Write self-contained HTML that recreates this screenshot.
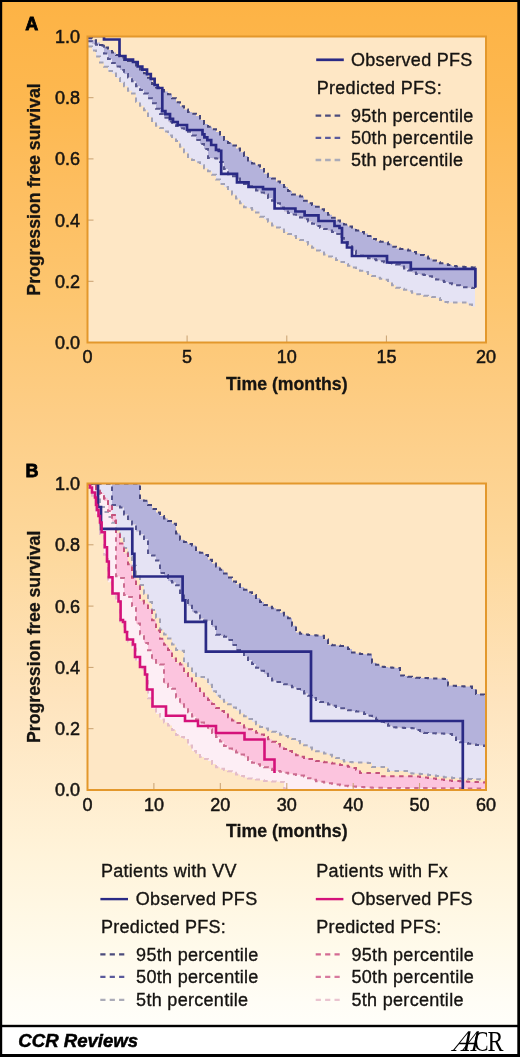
<!DOCTYPE html>
<html><head><meta charset="utf-8"><title>PFS figure</title><style>
html,body{margin:0;padding:0;background:#fff;}
svg{display:block;}
text{font-family:"Liberation Sans",Arial,sans-serif;fill:#161412;}
.tl{font-size:18px;stroke:#161412;stroke-width:0.5px;}
.lg{font-size:18px;letter-spacing:0.3px;stroke:#161412;stroke-width:0.35px;}
.ax{font-size:17.7px;font-weight:bold;stroke:#161412;stroke-width:0.3px;}
.pl{font-size:18px;font-weight:bold;fill:#000;stroke:#000;stroke-width:0.8px;}
.ft{font-size:18.6px;font-weight:bold;font-style:italic;fill:#000;stroke:#000;stroke-width:0.5px;}
.logo{font-family:"Liberation Serif",serif;font-size:30px;fill:#000;}
</style></head>
<body><svg width="520" height="1057" viewBox="0 0 520 1057">
<defs><linearGradient id="bg" x1="0" y1="0" x2="0" y2="1"><stop offset="0" stop-color="#FDB345"/><stop offset="0.1" stop-color="#FDB850"/><stop offset="0.186" stop-color="#FDBE60"/><stop offset="0.293" stop-color="#FDC670"/><stop offset="0.4" stop-color="#FDCD85"/><stop offset="0.537" stop-color="#FDD89C"/><stop offset="0.684" stop-color="#FEE4BE"/><stop offset="0.83" stop-color="#FFF3D9"/><stop offset="0.92" stop-color="#FFFAEA"/><stop offset="0.977" stop-color="#FFFDF6"/><stop offset="1.0" stop-color="#FFFEF9"/></linearGradient></defs>
<rect x="0" y="0" width="520" height="1026" fill="url(#bg)"/>
<rect x="0" y="1026" width="520" height="31" fill="#ffffff"/>
<text x="25.3" y="29.8" class="pl">A</text>
<text x="25.5" y="476.5" class="pl">B</text>
<clipPath id="ca"><rect x="87.5" y="36.5" width="398.5" height="306.0"/></clipPath>
<clipPath id="cb"><rect x="87.5" y="483.5" width="398.5" height="306.5"/></clipPath>
<g clip-path="url(#ca)"><rect x="87.5" y="36.5" width="398.5" height="306.0" fill="#FEE7C5"/>
<polygon points="88.0,41.3 92.0,41.3 92.0,43.7 96.0,43.7 96.0,44.8 100.0,44.8 100.0,45.8 104.0,45.8 104.0,53.5 108.0,53.5 108.0,59.0 112.0,59.0 112.0,63.0 116.0,63.0 116.0,66.6 120.0,66.6 120.0,70.0 124.0,70.0 124.0,74.0 128.0,74.0 128.0,77.6 132.0,77.6 132.0,81.2 136.0,81.2 136.0,86.2 140.0,86.2 140.0,89.9 144.0,89.9 144.0,93.5 148.0,93.5 148.0,98.2 152.0,98.2 152.0,103.3 156.0,103.3 156.0,108.7 160.0,108.7 160.0,114.0 164.0,114.0 164.0,117.8 168.0,117.8 168.0,121.5 172.0,121.5 172.0,123.8 176.0,123.8 176.0,126.1 180.0,126.1 180.0,128.2 184.0,128.2 184.0,129.9 188.0,129.9 188.0,131.7 192.0,131.7 192.0,135.5 196.0,135.5 196.0,140.0 200.0,140.0 200.0,144.0 204.0,144.0 204.0,149.0 208.0,149.0 208.0,158.0 212.0,158.0 212.0,158.2 216.0,158.2 216.0,158.5 220.0,158.5 220.0,162.0 224.0,162.0 224.0,169.1 228.0,169.1 228.0,174.3 232.0,174.3 232.0,176.3 236.0,176.3 236.0,178.6 240.0,178.6 240.0,181.2 244.0,181.2 244.0,183.9 248.0,183.9 248.0,186.2 252.0,186.2 252.0,188.3 256.0,188.3 256.0,190.4 260.0,190.4 260.0,192.5 264.0,192.5 264.0,194.6 268.0,194.6 268.0,198.1 272.0,198.1 272.0,200.7 276.0,200.7 276.0,203.3 280.0,203.3 280.0,207.4 284.0,207.4 284.0,211.5 288.0,211.5 288.0,212.9 292.0,212.9 292.0,214.4 296.0,214.4 296.0,215.8 300.0,215.8 300.0,217.5 304.0,217.5 304.0,219.2 308.0,219.2 308.0,221.5 312.0,221.5 312.0,223.8 316.0,223.8 316.0,225.9 320.0,225.9 320.0,227.7 324.0,227.7 324.0,229.1 328.0,229.1 328.0,230.5 332.0,230.5 332.0,231.9 336.0,231.9 336.0,234.0 340.0,234.0 340.0,238.0 344.0,238.0 344.0,242.0 348.0,242.0 348.0,246.3 352.0,246.3 352.0,250.7 356.0,250.7 356.0,254.3 360.0,254.3 360.0,255.8 364.0,255.8 364.0,257.1 368.0,257.1 368.0,258.2 372.0,258.2 372.0,259.2 376.0,259.2 376.0,260.2 380.0,260.2 380.0,261.2 384.0,261.2 384.0,262.2 388.0,262.2 388.0,262.9 392.0,262.9 392.0,263.6 396.0,263.6 396.0,264.5 400.0,264.5 400.0,266.5 404.0,266.5 404.0,268.5 408.0,268.5 408.0,270.5 412.0,270.5 412.0,272.5 416.0,272.5 416.0,274.1 420.0,274.1 420.0,274.5 424.0,274.5 424.0,274.9 428.0,274.9 428.0,276.2 432.0,276.2 432.0,277.8 436.0,277.8 436.0,279.4 440.0,279.4 440.0,280.8 444.0,280.8 444.0,282.1 448.0,282.1 448.0,283.2 452.0,283.2 452.0,284.2 456.0,284.2 456.0,285.2 460.0,285.2 460.0,286.2 464.0,286.2 464.0,287.2 468.0,287.2 468.0,287.7 472.0,287.7 472.0,287.9 475.0,287.9 475.0,288.0 475.0,307.0 475.0,306.7 472.0,306.7 472.0,304.6 468.0,304.6 468.0,302.5 464.0,302.5 464.0,302.5 460.0,302.5 460.0,302.5 456.0,302.5 456.0,302.5 452.0,302.5 452.0,302.5 448.0,302.5 448.0,302.0 444.0,302.0 444.0,300.0 440.0,300.0 440.0,298.0 436.0,298.0 436.0,297.1 432.0,297.1 432.0,296.4 428.0,296.4 428.0,295.8 424.0,295.8 424.0,295.0 420.0,295.0 420.0,294.2 416.0,294.2 416.0,292.8 412.0,292.8 412.0,291.2 408.0,291.2 408.0,289.8 404.0,289.8 404.0,288.8 400.0,288.8 400.0,287.8 396.0,287.8 396.0,285.2 392.0,285.2 392.0,282.2 388.0,282.2 388.0,279.8 384.0,279.8 384.0,278.8 380.0,278.8 380.0,277.8 376.0,277.8 376.0,276.0 372.0,276.0 372.0,274.0 368.0,274.0 368.0,272.1 364.0,272.1 364.0,270.8 360.0,270.8 360.0,269.4 356.0,269.4 356.0,267.6 352.0,267.6 352.0,265.7 348.0,265.7 348.0,263.9 344.0,263.9 344.0,262.0 340.0,262.0 340.0,260.1 336.0,260.1 336.0,258.3 332.0,258.3 332.0,256.4 328.0,256.4 328.0,254.5 324.0,254.5 324.0,252.5 320.0,252.5 320.0,250.5 316.0,250.5 316.0,247.8 312.0,247.8 312.0,244.8 308.0,244.8 308.0,242.0 304.0,242.0 304.0,240.0 300.0,240.0 300.0,238.0 296.0,238.0 296.0,236.0 292.0,236.0 292.0,234.0 288.0,234.0 288.0,231.9 284.0,231.9 284.0,229.6 280.0,229.6 280.0,227.5 276.0,227.5 276.0,225.4 272.0,225.4 272.0,221.7 268.0,221.7 268.0,219.2 264.0,219.2 264.0,216.7 260.0,216.7 260.0,212.6 256.0,212.6 256.0,209.7 252.0,209.7 252.0,208.1 248.0,208.1 248.0,207.3 244.0,207.3 244.0,203.3 240.0,203.3 240.0,198.5 236.0,198.5 236.0,194.6 232.0,194.6 232.0,190.4 228.0,190.4 228.0,186.9 224.0,186.9 224.0,183.9 220.0,183.9 220.0,179.6 216.0,179.6 216.0,174.7 212.0,174.7 212.0,171.2 208.0,171.2 208.0,168.2 204.0,168.2 204.0,165.2 200.0,165.2 200.0,162.2 196.0,162.2 196.0,160.1 192.0,160.1 192.0,158.0 188.0,158.0 188.0,152.3 184.0,152.3 184.0,146.7 180.0,146.7 180.0,141.0 176.0,141.0 176.0,138.2 172.0,138.2 172.0,135.4 168.0,135.4 168.0,131.4 164.0,131.4 164.0,128.1 160.0,128.1 160.0,125.8 156.0,125.8 156.0,122.1 152.0,122.1 152.0,117.0 148.0,117.0 148.0,110.2 144.0,110.2 144.0,105.8 140.0,105.8 140.0,101.8 136.0,101.8 136.0,93.4 132.0,93.4 132.0,90.8 128.0,90.8 128.0,86.3 124.0,86.3 124.0,82.8 120.0,82.8 120.0,77.9 116.0,77.9 116.0,73.6 112.0,73.6 112.0,71.0 108.0,71.0 108.0,66.8 104.0,66.8 104.0,62.5 100.0,62.5 100.0,56.4 96.0,56.4 96.0,50.5 92.0,50.5 92.0,46.5 88.0,46.5" fill="#E5E3F4"/>
<polygon points="88.0,38.0 92.0,38.0 92.0,40.2 96.0,40.2 96.0,42.6 100.0,42.6 100.0,45.0 104.0,45.0 104.0,47.5 108.0,47.5 108.0,50.0 112.0,50.0 112.0,52.5 116.0,52.5 116.0,55.1 120.0,55.1 120.0,57.6 124.0,57.6 124.0,59.9 128.0,59.9 128.0,61.1 132.0,61.1 132.0,63.0 136.0,63.0 136.0,66.7 140.0,66.7 140.0,69.4 144.0,69.4 144.0,73.2 148.0,73.2 148.0,77.8 152.0,77.8 152.0,84.0 156.0,84.0 156.0,87.5 160.0,87.5 160.0,90.0 164.0,90.0 164.0,91.4 168.0,91.4 168.0,94.2 172.0,94.2 172.0,98.2 176.0,98.2 176.0,102.3 180.0,102.3 180.0,106.2 184.0,106.2 184.0,109.5 188.0,109.5 188.0,111.9 192.0,111.9 192.0,113.7 196.0,113.7 196.0,116.0 200.0,116.0 200.0,120.0 204.0,120.0 204.0,124.0 208.0,124.0 208.0,126.8 212.0,126.8 212.0,129.2 216.0,129.2 216.0,132.0 220.0,132.0 220.0,136.0 224.0,136.0 224.0,140.0 228.0,140.0 228.0,142.9 232.0,142.9 232.0,145.6 236.0,145.6 236.0,148.4 240.0,148.4 240.0,152.2 244.0,152.2 244.0,156.0 248.0,156.0 248.0,160.6 252.0,160.6 252.0,163.4 256.0,163.4 256.0,165.2 260.0,165.2 260.0,169.0 264.0,169.0 264.0,173.8 268.0,173.8 268.0,176.9 272.0,176.9 272.0,178.6 276.0,178.6 276.0,181.5 280.0,181.5 280.0,183.9 284.0,183.9 284.0,186.9 288.0,186.9 288.0,191.0 292.0,191.0 292.0,194.6 296.0,194.6 296.0,195.4 300.0,195.4 300.0,196.5 304.0,196.5 304.0,200.8 308.0,200.8 308.0,203.3 312.0,203.3 312.0,205.1 316.0,205.1 316.0,206.8 320.0,206.8 320.0,209.3 324.0,209.3 324.0,211.9 328.0,211.9 328.0,214.8 332.0,214.8 332.0,217.8 336.0,217.8 336.0,220.5 340.0,220.5 340.0,222.5 344.0,222.5 344.0,224.5 348.0,224.5 348.0,226.5 352.0,226.5 352.0,228.5 356.0,228.5 356.0,230.4 360.0,230.4 360.0,232.0 364.0,232.0 364.0,233.6 368.0,233.6 368.0,236.1 372.0,236.1 372.0,238.9 376.0,238.9 376.0,241.2 380.0,241.2 380.0,241.8 384.0,241.8 384.0,242.3 388.0,242.3 388.0,244.3 392.0,244.3 392.0,246.7 396.0,246.7 396.0,248.6 400.0,248.6 400.0,249.1 404.0,249.1 404.0,249.5 408.0,249.5 408.0,250.6 412.0,250.6 412.0,252.0 416.0,252.0 416.0,253.4 420.0,253.4 420.0,255.0 424.0,255.0 424.0,256.6 428.0,256.6 428.0,258.5 432.0,258.5 432.0,260.5 436.0,260.5 436.0,262.2 440.0,262.2 440.0,263.2 444.0,263.2 444.0,264.2 448.0,264.2 448.0,265.1 452.0,265.1 452.0,265.9 456.0,265.9 456.0,266.6 460.0,266.6 460.0,266.8 464.0,266.8 464.0,266.9 468.0,266.9 468.0,267.2 472.0,267.2 472.0,267.4 475.0,267.4 475.0,267.5 475.0,288.0 475.0,287.9 472.0,287.9 472.0,287.7 468.0,287.7 468.0,287.2 464.0,287.2 464.0,286.2 460.0,286.2 460.0,285.2 456.0,285.2 456.0,284.2 452.0,284.2 452.0,283.2 448.0,283.2 448.0,282.1 444.0,282.1 444.0,280.8 440.0,280.8 440.0,279.4 436.0,279.4 436.0,277.8 432.0,277.8 432.0,276.2 428.0,276.2 428.0,274.9 424.0,274.9 424.0,274.5 420.0,274.5 420.0,274.1 416.0,274.1 416.0,272.5 412.0,272.5 412.0,270.5 408.0,270.5 408.0,268.5 404.0,268.5 404.0,266.5 400.0,266.5 400.0,264.5 396.0,264.5 396.0,263.6 392.0,263.6 392.0,262.9 388.0,262.9 388.0,262.2 384.0,262.2 384.0,261.2 380.0,261.2 380.0,260.2 376.0,260.2 376.0,259.2 372.0,259.2 372.0,258.2 368.0,258.2 368.0,257.1 364.0,257.1 364.0,255.8 360.0,255.8 360.0,254.3 356.0,254.3 356.0,250.7 352.0,250.7 352.0,246.3 348.0,246.3 348.0,242.0 344.0,242.0 344.0,238.0 340.0,238.0 340.0,234.0 336.0,234.0 336.0,231.9 332.0,231.9 332.0,230.5 328.0,230.5 328.0,229.1 324.0,229.1 324.0,227.7 320.0,227.7 320.0,225.9 316.0,225.9 316.0,223.8 312.0,223.8 312.0,221.5 308.0,221.5 308.0,219.2 304.0,219.2 304.0,217.5 300.0,217.5 300.0,215.8 296.0,215.8 296.0,214.4 292.0,214.4 292.0,212.9 288.0,212.9 288.0,211.5 284.0,211.5 284.0,207.4 280.0,207.4 280.0,203.3 276.0,203.3 276.0,200.7 272.0,200.7 272.0,198.1 268.0,198.1 268.0,194.6 264.0,194.6 264.0,192.5 260.0,192.5 260.0,190.4 256.0,190.4 256.0,188.3 252.0,188.3 252.0,186.2 248.0,186.2 248.0,183.9 244.0,183.9 244.0,181.2 240.0,181.2 240.0,178.6 236.0,178.6 236.0,176.3 232.0,176.3 232.0,174.3 228.0,174.3 228.0,169.1 224.0,169.1 224.0,162.0 220.0,162.0 220.0,158.5 216.0,158.5 216.0,158.2 212.0,158.2 212.0,158.0 208.0,158.0 208.0,149.0 204.0,149.0 204.0,144.0 200.0,144.0 200.0,140.0 196.0,140.0 196.0,135.5 192.0,135.5 192.0,131.7 188.0,131.7 188.0,129.9 184.0,129.9 184.0,128.2 180.0,128.2 180.0,126.1 176.0,126.1 176.0,123.8 172.0,123.8 172.0,121.5 168.0,121.5 168.0,117.8 164.0,117.8 164.0,114.0 160.0,114.0 160.0,108.7 156.0,108.7 156.0,103.3 152.0,103.3 152.0,98.2 148.0,98.2 148.0,93.5 144.0,93.5 144.0,89.9 140.0,89.9 140.0,86.2 136.0,86.2 136.0,81.2 132.0,81.2 132.0,77.6 128.0,77.6 128.0,74.0 124.0,74.0 124.0,70.0 120.0,70.0 120.0,66.6 116.0,66.6 116.0,63.0 112.0,63.0 112.0,59.0 108.0,59.0 108.0,53.5 104.0,53.5 104.0,45.8 100.0,45.8 100.0,44.8 96.0,44.8 96.0,43.7 92.0,43.7 92.0,41.3 88.0,41.3" fill="#B4B2DB"/>
<path d="M88.0,46.5 L92.0,46.5 L92.0,50.5 L96.0,50.5 L96.0,56.4 L100.0,56.4 L100.0,62.5 L104.0,62.5 L104.0,66.8 L108.0,66.8 L108.0,71.0 L112.0,71.0 L112.0,73.6 L116.0,73.6 L116.0,77.9 L120.0,77.9 L120.0,82.8 L124.0,82.8 L124.0,86.3 L128.0,86.3 L128.0,90.8 L132.0,90.8 L132.0,93.4 L136.0,93.4 L136.0,101.8 L140.0,101.8 L140.0,105.8 L144.0,105.8 L144.0,110.2 L148.0,110.2 L148.0,117.0 L152.0,117.0 L152.0,122.1 L156.0,122.1 L156.0,125.8 L160.0,125.8 L160.0,128.1 L164.0,128.1 L164.0,131.4 L168.0,131.4 L168.0,135.4 L172.0,135.4 L172.0,138.2 L176.0,138.2 L176.0,141.0 L180.0,141.0 L180.0,146.7 L184.0,146.7 L184.0,152.3 L188.0,152.3 L188.0,158.0 L192.0,158.0 L192.0,160.1 L196.0,160.1 L196.0,162.2 L200.0,162.2 L200.0,165.2 L204.0,165.2 L204.0,168.2 L208.0,168.2 L208.0,171.2 L212.0,171.2 L212.0,174.7 L216.0,174.7 L216.0,179.6 L220.0,179.6 L220.0,183.9 L224.0,183.9 L224.0,186.9 L228.0,186.9 L228.0,190.4 L232.0,190.4 L232.0,194.6 L236.0,194.6 L236.0,198.5 L240.0,198.5 L240.0,203.3 L244.0,203.3 L244.0,207.3 L248.0,207.3 L248.0,208.1 L252.0,208.1 L252.0,209.7 L256.0,209.7 L256.0,212.6 L260.0,212.6 L260.0,216.7 L264.0,216.7 L264.0,219.2 L268.0,219.2 L268.0,221.7 L272.0,221.7 L272.0,225.4 L276.0,225.4 L276.0,227.5 L280.0,227.5 L280.0,229.6 L284.0,229.6 L284.0,231.9 L288.0,231.9 L288.0,234.0 L292.0,234.0 L292.0,236.0 L296.0,236.0 L296.0,238.0 L300.0,238.0 L300.0,240.0 L304.0,240.0 L304.0,242.0 L308.0,242.0 L308.0,244.8 L312.0,244.8 L312.0,247.8 L316.0,247.8 L316.0,250.5 L320.0,250.5 L320.0,252.5 L324.0,252.5 L324.0,254.5 L328.0,254.5 L328.0,256.4 L332.0,256.4 L332.0,258.3 L336.0,258.3 L336.0,260.1 L340.0,260.1 L340.0,262.0 L344.0,262.0 L344.0,263.9 L348.0,263.9 L348.0,265.7 L352.0,265.7 L352.0,267.6 L356.0,267.6 L356.0,269.4 L360.0,269.4 L360.0,270.8 L364.0,270.8 L364.0,272.1 L368.0,272.1 L368.0,274.0 L372.0,274.0 L372.0,276.0 L376.0,276.0 L376.0,277.8 L380.0,277.8 L380.0,278.8 L384.0,278.8 L384.0,279.8 L388.0,279.8 L388.0,282.2 L392.0,282.2 L392.0,285.2 L396.0,285.2 L396.0,287.8 L400.0,287.8 L400.0,288.8 L404.0,288.8 L404.0,289.8 L408.0,289.8 L408.0,291.2 L412.0,291.2 L412.0,292.8 L416.0,292.8 L416.0,294.2 L420.0,294.2 L420.0,295.0 L424.0,295.0 L424.0,295.8 L428.0,295.8 L428.0,296.4 L432.0,296.4 L432.0,297.1 L436.0,297.1 L436.0,298.0 L440.0,298.0 L440.0,300.0 L444.0,300.0 L444.0,302.0 L448.0,302.0 L448.0,302.5 L452.0,302.5 L452.0,302.5 L456.0,302.5 L456.0,302.5 L460.0,302.5 L460.0,302.5 L464.0,302.5 L464.0,302.5 L468.0,302.5 L468.0,304.6 L472.0,304.6 L472.0,306.7 L475.0,306.7 L475.0,307.0" fill="none" stroke="#A2A2B6" stroke-width="2" stroke-dasharray="4.5 4.5"/>
<path d="M88.0,41.3 L92.0,41.3 L92.0,43.7 L96.0,43.7 L96.0,44.8 L100.0,44.8 L100.0,45.8 L104.0,45.8 L104.0,53.5 L108.0,53.5 L108.0,59.0 L112.0,59.0 L112.0,63.0 L116.0,63.0 L116.0,66.6 L120.0,66.6 L120.0,70.0 L124.0,70.0 L124.0,74.0 L128.0,74.0 L128.0,77.6 L132.0,77.6 L132.0,81.2 L136.0,81.2 L136.0,86.2 L140.0,86.2 L140.0,89.9 L144.0,89.9 L144.0,93.5 L148.0,93.5 L148.0,98.2 L152.0,98.2 L152.0,103.3 L156.0,103.3 L156.0,108.7 L160.0,108.7 L160.0,114.0 L164.0,114.0 L164.0,117.8 L168.0,117.8 L168.0,121.5 L172.0,121.5 L172.0,123.8 L176.0,123.8 L176.0,126.1 L180.0,126.1 L180.0,128.2 L184.0,128.2 L184.0,129.9 L188.0,129.9 L188.0,131.7 L192.0,131.7 L192.0,135.5 L196.0,135.5 L196.0,140.0 L200.0,140.0 L200.0,144.0 L204.0,144.0 L204.0,149.0 L208.0,149.0 L208.0,158.0 L212.0,158.0 L212.0,158.2 L216.0,158.2 L216.0,158.5 L220.0,158.5 L220.0,162.0 L224.0,162.0 L224.0,169.1 L228.0,169.1 L228.0,174.3 L232.0,174.3 L232.0,176.3 L236.0,176.3 L236.0,178.6 L240.0,178.6 L240.0,181.2 L244.0,181.2 L244.0,183.9 L248.0,183.9 L248.0,186.2 L252.0,186.2 L252.0,188.3 L256.0,188.3 L256.0,190.4 L260.0,190.4 L260.0,192.5 L264.0,192.5 L264.0,194.6 L268.0,194.6 L268.0,198.1 L272.0,198.1 L272.0,200.7 L276.0,200.7 L276.0,203.3 L280.0,203.3 L280.0,207.4 L284.0,207.4 L284.0,211.5 L288.0,211.5 L288.0,212.9 L292.0,212.9 L292.0,214.4 L296.0,214.4 L296.0,215.8 L300.0,215.8 L300.0,217.5 L304.0,217.5 L304.0,219.2 L308.0,219.2 L308.0,221.5 L312.0,221.5 L312.0,223.8 L316.0,223.8 L316.0,225.9 L320.0,225.9 L320.0,227.7 L324.0,227.7 L324.0,229.1 L328.0,229.1 L328.0,230.5 L332.0,230.5 L332.0,231.9 L336.0,231.9 L336.0,234.0 L340.0,234.0 L340.0,238.0 L344.0,238.0 L344.0,242.0 L348.0,242.0 L348.0,246.3 L352.0,246.3 L352.0,250.7 L356.0,250.7 L356.0,254.3 L360.0,254.3 L360.0,255.8 L364.0,255.8 L364.0,257.1 L368.0,257.1 L368.0,258.2 L372.0,258.2 L372.0,259.2 L376.0,259.2 L376.0,260.2 L380.0,260.2 L380.0,261.2 L384.0,261.2 L384.0,262.2 L388.0,262.2 L388.0,262.9 L392.0,262.9 L392.0,263.6 L396.0,263.6 L396.0,264.5 L400.0,264.5 L400.0,266.5 L404.0,266.5 L404.0,268.5 L408.0,268.5 L408.0,270.5 L412.0,270.5 L412.0,272.5 L416.0,272.5 L416.0,274.1 L420.0,274.1 L420.0,274.5 L424.0,274.5 L424.0,274.9 L428.0,274.9 L428.0,276.2 L432.0,276.2 L432.0,277.8 L436.0,277.8 L436.0,279.4 L440.0,279.4 L440.0,280.8 L444.0,280.8 L444.0,282.1 L448.0,282.1 L448.0,283.2 L452.0,283.2 L452.0,284.2 L456.0,284.2 L456.0,285.2 L460.0,285.2 L460.0,286.2 L464.0,286.2 L464.0,287.2 L468.0,287.2 L468.0,287.7 L472.0,287.7 L472.0,287.9 L475.0,287.9 L475.0,288.0" fill="none" stroke="#55558E" stroke-width="2" stroke-dasharray="4.5 4.5"/>
<path d="M88.0,38.0 L92.0,38.0 L92.0,40.2 L96.0,40.2 L96.0,42.6 L100.0,42.6 L100.0,45.0 L104.0,45.0 L104.0,47.5 L108.0,47.5 L108.0,50.0 L112.0,50.0 L112.0,52.5 L116.0,52.5 L116.0,55.1 L120.0,55.1 L120.0,57.6 L124.0,57.6 L124.0,59.9 L128.0,59.9 L128.0,61.1 L132.0,61.1 L132.0,63.0 L136.0,63.0 L136.0,66.7 L140.0,66.7 L140.0,69.4 L144.0,69.4 L144.0,73.2 L148.0,73.2 L148.0,77.8 L152.0,77.8 L152.0,84.0 L156.0,84.0 L156.0,87.5 L160.0,87.5 L160.0,90.0 L164.0,90.0 L164.0,91.4 L168.0,91.4 L168.0,94.2 L172.0,94.2 L172.0,98.2 L176.0,98.2 L176.0,102.3 L180.0,102.3 L180.0,106.2 L184.0,106.2 L184.0,109.5 L188.0,109.5 L188.0,111.9 L192.0,111.9 L192.0,113.7 L196.0,113.7 L196.0,116.0 L200.0,116.0 L200.0,120.0 L204.0,120.0 L204.0,124.0 L208.0,124.0 L208.0,126.8 L212.0,126.8 L212.0,129.2 L216.0,129.2 L216.0,132.0 L220.0,132.0 L220.0,136.0 L224.0,136.0 L224.0,140.0 L228.0,140.0 L228.0,142.9 L232.0,142.9 L232.0,145.6 L236.0,145.6 L236.0,148.4 L240.0,148.4 L240.0,152.2 L244.0,152.2 L244.0,156.0 L248.0,156.0 L248.0,160.6 L252.0,160.6 L252.0,163.4 L256.0,163.4 L256.0,165.2 L260.0,165.2 L260.0,169.0 L264.0,169.0 L264.0,173.8 L268.0,173.8 L268.0,176.9 L272.0,176.9 L272.0,178.6 L276.0,178.6 L276.0,181.5 L280.0,181.5 L280.0,183.9 L284.0,183.9 L284.0,186.9 L288.0,186.9 L288.0,191.0 L292.0,191.0 L292.0,194.6 L296.0,194.6 L296.0,195.4 L300.0,195.4 L300.0,196.5 L304.0,196.5 L304.0,200.8 L308.0,200.8 L308.0,203.3 L312.0,203.3 L312.0,205.1 L316.0,205.1 L316.0,206.8 L320.0,206.8 L320.0,209.3 L324.0,209.3 L324.0,211.9 L328.0,211.9 L328.0,214.8 L332.0,214.8 L332.0,217.8 L336.0,217.8 L336.0,220.5 L340.0,220.5 L340.0,222.5 L344.0,222.5 L344.0,224.5 L348.0,224.5 L348.0,226.5 L352.0,226.5 L352.0,228.5 L356.0,228.5 L356.0,230.4 L360.0,230.4 L360.0,232.0 L364.0,232.0 L364.0,233.6 L368.0,233.6 L368.0,236.1 L372.0,236.1 L372.0,238.9 L376.0,238.9 L376.0,241.2 L380.0,241.2 L380.0,241.8 L384.0,241.8 L384.0,242.3 L388.0,242.3 L388.0,244.3 L392.0,244.3 L392.0,246.7 L396.0,246.7 L396.0,248.6 L400.0,248.6 L400.0,249.1 L404.0,249.1 L404.0,249.5 L408.0,249.5 L408.0,250.6 L412.0,250.6 L412.0,252.0 L416.0,252.0 L416.0,253.4 L420.0,253.4 L420.0,255.0 L424.0,255.0 L424.0,256.6 L428.0,256.6 L428.0,258.5 L432.0,258.5 L432.0,260.5 L436.0,260.5 L436.0,262.2 L440.0,262.2 L440.0,263.2 L444.0,263.2 L444.0,264.2 L448.0,264.2 L448.0,265.1 L452.0,265.1 L452.0,265.9 L456.0,265.9 L456.0,266.6 L460.0,266.6 L460.0,266.8 L464.0,266.8 L464.0,266.9 L468.0,266.9 L468.0,267.2 L472.0,267.2 L472.0,267.4 L475.0,267.4 L475.0,267.5" fill="none" stroke="#45457A" stroke-width="2" stroke-dasharray="4.5 4.5"/>
<polyline points="88.0,36.0 104.0,36.0 104.0,39.5 119.5,39.5 119.5,56.0 125.4,56.0 125.4,59.6 133.0,59.6 133.0,62.0 137.7,62.0 137.7,66.5 142.3,66.5 142.3,69.6 147.0,69.6 147.0,74.2 150.8,74.2 150.8,78.8 154.6,78.8 154.6,85.0 157.7,85.0 157.7,88.0 162.3,88.0 162.3,111.2 165.4,111.2 165.4,114.2 170.0,114.2 170.0,118.8 173.0,118.8 173.0,122.0 177.7,122.0 177.7,125.0 187.0,125.0 187.0,130.0 202.5,130.0 202.5,134.4 204.4,134.4 204.4,137.3 207.3,137.3 207.3,140.2 211.2,140.2 211.2,145.0 216.0,145.0 216.0,149.8 218.8,149.8 218.8,150.8 221.2,150.8 221.2,173.8 237.0,173.8 237.0,182.3 248.5,182.3 248.5,187.0 263.0,187.0 263.0,189.2 274.6,189.2 274.6,208.5 295.4,208.5 295.4,211.5 304.6,211.5 304.6,215.4 318.5,215.4 318.5,221.0 334.5,221.0 334.5,226.0 339.5,226.0 339.5,228.0 342.0,228.0 342.0,242.5 347.0,242.5 347.0,247.5 352.0,247.5 352.0,256.0 387.0,256.0 387.0,262.5 410.8,262.5 410.8,269.0 475.4,269.0 475.4,287.5" fill="none" stroke="#2A2A85" stroke-width="2.7"/></g>
<line x1="187.1" y1="335.5" x2="187.1" y2="342.5" stroke="#C8A070" stroke-width="1"/>
<line x1="286.8" y1="335.5" x2="286.8" y2="342.5" stroke="#C8A070" stroke-width="1"/>
<line x1="386.4" y1="335.5" x2="386.4" y2="342.5" stroke="#C8A070" stroke-width="1"/>
<line x1="87.5" y1="281.3" x2="93.5" y2="281.3" stroke="#C8A070" stroke-width="1"/>
<line x1="87.5" y1="220.1" x2="93.5" y2="220.1" stroke="#C8A070" stroke-width="1"/>
<line x1="87.5" y1="158.9" x2="93.5" y2="158.9" stroke="#C8A070" stroke-width="1"/>
<line x1="87.5" y1="97.7" x2="93.5" y2="97.7" stroke="#C8A070" stroke-width="1"/>
<rect x="87.5" y="36.5" width="398.5" height="306.0" fill="none" stroke="#E3982C" stroke-width="2"/>
<text x="80" y="348.9" text-anchor="end" class="tl">0.0</text>
<text x="80" y="287.7" text-anchor="end" class="tl">0.2</text>
<text x="80" y="226.5" text-anchor="end" class="tl">0.4</text>
<text x="80" y="165.3" text-anchor="end" class="tl">0.6</text>
<text x="80" y="104.1" text-anchor="end" class="tl">0.8</text>
<text x="80" y="42.9" text-anchor="end" class="tl">1.0</text>
<text x="87.5" y="363.1" text-anchor="middle" class="tl">0</text>
<text x="187.1" y="363.1" text-anchor="middle" class="tl">5</text>
<text x="286.8" y="363.1" text-anchor="middle" class="tl">10</text>
<text x="386.4" y="363.1" text-anchor="middle" class="tl">15</text>
<text x="486.0" y="363.1" text-anchor="middle" class="tl">20</text>
<text x="286.8" y="389.5" text-anchor="middle" class="ax">Time (months)</text>
<text transform="translate(40.4,189.5) rotate(-90)" x="0" y="0" text-anchor="middle" class="ax">Progression free survival</text>
<g clip-path="url(#cb)"><rect x="87.5" y="483.5" width="398.5" height="306.5" fill="#FEE7C5"/>
<polygon points="88.0,483.5 92.0,483.5 92.0,483.5 96.0,483.5 96.0,483.5 100.0,483.5 100.0,483.5 104.0,483.5 104.0,483.5 108.0,483.5 108.0,483.5 112.0,483.5 112.0,505.0 116.0,505.0 116.0,506.5 120.0,506.5 120.0,507.5 124.0,507.5 124.0,514.4 128.0,514.4 128.0,520.2 132.0,520.2 132.0,524.4 136.0,524.4 136.0,531.5 140.0,531.5 140.0,534.2 144.0,534.2 144.0,539.1 148.0,539.1 148.0,554.0 152.0,554.0 152.0,555.4 156.0,555.4 156.0,560.6 160.0,560.6 160.0,572.9 164.0,572.9 164.0,575.0 168.0,575.0 168.0,580.9 172.0,580.9 172.0,582.4 176.0,582.4 176.0,585.3 180.0,585.3 180.0,594.1 184.0,594.1 184.0,599.9 188.0,599.9 188.0,605.7 192.0,605.7 192.0,611.7 196.0,611.7 196.0,612.4 200.0,612.4 200.0,618.5 204.0,618.5 204.0,620.5 208.0,620.5 208.0,620.8 212.0,620.8 212.0,626.8 216.0,626.8 216.0,634.8 220.0,634.8 220.0,635.8 224.0,635.8 224.0,636.8 228.0,636.8 228.0,640.0 232.0,640.0 232.0,645.0 236.0,645.0 236.0,650.0 240.0,650.0 240.0,652.0 244.0,652.0 244.0,656.0 248.0,656.0 248.0,660.0 252.0,660.0 252.0,664.0 256.0,664.0 256.0,667.8 260.0,667.8 260.0,670.8 264.0,670.8 264.0,673.8 268.0,673.8 268.0,677.1 272.0,677.1 272.0,680.6 276.0,680.6 276.0,682.0 280.0,682.0 280.0,683.1 284.0,683.1 284.0,684.2 288.0,684.2 288.0,685.7 292.0,685.7 292.0,687.3 296.0,687.3 296.0,688.9 300.0,688.9 300.0,691.0 304.0,691.0 304.0,693.4 308.0,693.4 308.0,695.8 312.0,695.8 312.0,698.0 316.0,698.0 316.0,700.0 320.0,700.0 320.0,702.0 324.0,702.0 324.0,703.3 328.0,703.3 328.0,704.6 332.0,704.6 332.0,705.8 336.0,705.8 336.0,707.0 340.0,707.0 340.0,708.2 344.0,708.2 344.0,709.4 348.0,709.4 348.0,710.2 352.0,710.2 352.0,710.9 356.0,710.9 356.0,711.6 360.0,711.6 360.0,712.2 364.0,712.2 364.0,713.9 368.0,713.9 368.0,715.8 372.0,715.8 372.0,717.8 376.0,717.8 376.0,719.8 380.0,719.8 380.0,721.8 384.0,721.8 384.0,723.8 388.0,723.8 388.0,725.8 392.0,725.8 392.0,727.3 396.0,727.3 396.0,727.5 400.0,727.5 400.0,727.7 404.0,727.7 404.0,727.9 408.0,727.9 408.0,728.1 412.0,728.1 412.0,728.3 416.0,728.3 416.0,730.0 420.0,730.0 420.0,732.7 424.0,732.7 424.0,732.9 428.0,732.9 428.0,733.0 432.0,733.0 432.0,733.2 436.0,733.2 436.0,733.4 440.0,733.4 440.0,733.6 444.0,733.6 444.0,733.7 448.0,733.7 448.0,733.9 452.0,733.9 452.0,736.0 456.0,736.0 456.0,740.0 460.0,740.0 460.0,742.3 464.0,742.3 464.0,743.0 468.0,743.0 468.0,743.7 472.0,743.7 472.0,744.4 476.0,744.4 476.0,745.0 480.0,745.0 480.0,745.5 484.0,745.5 484.0,746.0 486.0,746.0 486.0,746.0 486.0,779.7 486.0,779.7 484.0,779.7 484.0,779.5 480.0,779.5 480.0,779.3 476.0,779.3 476.0,779.1 472.0,779.1 472.0,778.9 468.0,778.9 468.0,778.7 464.0,778.7 464.0,778.5 460.0,778.5 460.0,778.2 456.0,778.2 456.0,777.9 452.0,777.9 452.0,777.5 448.0,777.5 448.0,777.2 444.0,777.2 444.0,776.7 440.0,776.7 440.0,776.1 436.0,776.1 436.0,775.6 432.0,775.6 432.0,775.0 428.0,775.0 428.0,774.4 424.0,774.4 424.0,774.1 420.0,774.1 420.0,773.8 416.0,773.8 416.0,773.5 412.0,773.5 412.0,773.2 408.0,773.2 408.0,771.0 404.0,771.0 404.0,771.0 400.0,771.0 400.0,771.0 396.0,771.0 396.0,771.0 392.0,771.0 392.0,771.0 388.0,771.0 388.0,767.0 384.0,767.0 384.0,767.0 380.0,767.0 380.0,767.0 376.0,767.0 376.0,767.0 372.0,767.0 372.0,763.0 368.0,763.0 368.0,762.8 364.0,762.8 364.0,762.6 360.0,762.6 360.0,762.5 356.0,762.5 356.0,762.3 352.0,762.3 352.0,762.1 348.0,762.1 348.0,761.6 344.0,761.6 344.0,759.9 340.0,759.9 340.0,758.1 336.0,758.1 336.0,756.4 332.0,756.4 332.0,754.7 328.0,754.7 328.0,753.5 324.0,753.5 324.0,752.4 320.0,752.4 320.0,751.3 316.0,751.3 316.0,749.4 312.0,749.4 312.0,747.4 308.0,747.4 308.0,745.3 304.0,745.3 304.0,743.2 300.0,743.2 300.0,741.1 296.0,741.1 296.0,739.0 292.0,739.0 292.0,737.3 288.0,737.3 288.0,736.0 284.0,736.0 284.0,734.7 280.0,734.7 280.0,733.3 276.0,733.3 276.0,731.8 272.0,731.8 272.0,730.2 268.0,730.2 268.0,728.6 264.0,728.6 264.0,727.0 260.0,727.0 260.0,724.3 256.0,724.3 256.0,721.7 252.0,721.7 252.0,719.0 248.0,719.0 248.0,716.3 244.0,716.3 244.0,713.3 240.0,713.3 240.0,710.4 236.0,710.4 236.0,707.5 232.0,707.5 232.0,704.3 228.0,704.3 228.0,701.8 224.0,701.8 224.0,699.7 220.0,699.7 220.0,695.7 216.0,695.7 216.0,691.3 212.0,691.3 212.0,684.8 208.0,684.8 208.0,679.5 204.0,679.5 204.0,677.0 200.0,677.0 200.0,677.0 196.0,677.0 196.0,673.4 192.0,673.4 192.0,667.4 188.0,667.4 188.0,663.2 184.0,663.2 184.0,650.7 180.0,650.7 180.0,649.9 176.0,649.9 176.0,644.5 172.0,644.5 172.0,638.6 168.0,638.6 168.0,634.4 164.0,634.4 164.0,629.8 160.0,629.8 160.0,617.8 156.0,617.8 156.0,610.0 152.0,610.0 152.0,602.0 148.0,602.0 148.0,593.7 144.0,593.7 144.0,585.0 140.0,585.0 140.0,575.0 136.0,575.0 136.0,565.7 132.0,565.7 132.0,557.0 128.0,557.0 128.0,547.9 124.0,547.9 124.0,538.2 120.0,538.2 120.0,529.5 116.0,529.5 116.0,522.8 112.0,522.8 112.0,517.0 108.0,517.0 108.0,512.0 104.0,512.0 104.0,507.0 100.0,507.0 100.0,489.0 96.0,489.0 96.0,483.5 92.0,483.5 92.0,483.5 88.0,483.5" fill="#E5E3F4"/>
<polygon points="88.0,483.5 92.0,483.5 92.0,483.5 96.0,483.5 96.0,483.5 100.0,483.5 100.0,483.5 104.0,483.5 104.0,483.5 108.0,483.5 108.0,483.5 112.0,483.5 112.0,483.5 116.0,483.5 116.0,483.5 120.0,483.5 120.0,483.5 124.0,483.5 124.0,483.5 128.0,483.5 128.0,483.5 132.0,483.5 132.0,483.5 136.0,483.5 136.0,483.5 140.0,483.5 140.0,499.5 144.0,499.5 144.0,500.7 148.0,500.7 148.0,505.0 152.0,505.0 152.0,509.0 156.0,509.0 156.0,512.5 160.0,512.5 160.0,516.0 164.0,516.0 164.0,518.5 168.0,518.5 168.0,521.0 172.0,521.0 172.0,523.7 176.0,523.7 176.0,533.4 180.0,533.4 180.0,539.8 184.0,539.8 184.0,542.1 188.0,542.1 188.0,543.9 192.0,543.9 192.0,545.6 196.0,545.6 196.0,551.2 200.0,551.2 200.0,552.8 204.0,552.8 204.0,555.1 208.0,555.1 208.0,559.7 212.0,559.7 212.0,563.4 216.0,563.4 216.0,566.4 220.0,566.4 220.0,569.8 224.0,569.8 224.0,573.5 228.0,573.5 228.0,577.5 232.0,577.5 232.0,581.5 236.0,581.5 236.0,584.3 240.0,584.3 240.0,587.0 244.0,587.0 244.0,589.7 248.0,589.7 248.0,592.3 252.0,592.3 252.0,595.0 256.0,595.0 256.0,598.0 260.0,598.0 260.0,602.0 264.0,602.0 264.0,605.1 268.0,605.1 268.0,606.7 272.0,606.7 272.0,608.3 276.0,608.3 276.0,610.2 280.0,610.2 280.0,612.8 284.0,612.8 284.0,615.5 288.0,615.5 288.0,618.2 292.0,618.2 292.0,625.8 296.0,625.8 296.0,632.6 300.0,632.6 300.0,633.8 304.0,633.8 304.0,634.6 308.0,634.6 308.0,634.9 312.0,634.9 312.0,635.2 316.0,635.2 316.0,635.5 320.0,635.5 320.0,635.8 324.0,635.8 324.0,639.6 328.0,639.6 328.0,644.7 332.0,644.7 332.0,645.2 336.0,645.2 336.0,645.6 340.0,645.6 340.0,646.0 344.0,646.0 344.0,646.5 348.0,646.5 348.0,649.1 352.0,649.1 352.0,652.5 356.0,652.5 356.0,653.6 360.0,653.6 360.0,653.9 364.0,653.9 364.0,654.2 368.0,654.2 368.0,654.5 372.0,654.5 372.0,662.8 376.0,662.8 376.0,664.8 380.0,664.8 380.0,666.8 384.0,666.8 384.0,667.1 388.0,667.1 388.0,667.4 392.0,667.4 392.0,667.7 396.0,667.7 396.0,668.0 400.0,668.0 400.0,675.4 404.0,675.4 404.0,676.1 408.0,676.1 408.0,676.8 412.0,676.8 412.0,677.4 416.0,677.4 416.0,677.7 420.0,677.7 420.0,677.9 424.0,677.9 424.0,678.0 428.0,678.0 428.0,678.2 432.0,678.2 432.0,678.4 436.0,678.4 436.0,678.6 440.0,678.6 440.0,678.8 444.0,678.8 444.0,679.0 448.0,679.0 448.0,685.6 452.0,685.6 452.0,685.8 456.0,685.8 456.0,686.0 460.0,686.0 460.0,686.2 464.0,686.2 464.0,686.4 468.0,686.4 468.0,686.6 472.0,686.6 472.0,689.0 476.0,689.0 476.0,693.9 480.0,693.9 480.0,694.5 484.0,694.5 484.0,695.0 486.0,695.0 486.0,695.0 486.0,746.0 486.0,746.0 484.0,746.0 484.0,745.5 480.0,745.5 480.0,745.0 476.0,745.0 476.0,744.4 472.0,744.4 472.0,743.7 468.0,743.7 468.0,743.0 464.0,743.0 464.0,742.3 460.0,742.3 460.0,740.0 456.0,740.0 456.0,736.0 452.0,736.0 452.0,733.9 448.0,733.9 448.0,733.7 444.0,733.7 444.0,733.6 440.0,733.6 440.0,733.4 436.0,733.4 436.0,733.2 432.0,733.2 432.0,733.0 428.0,733.0 428.0,732.9 424.0,732.9 424.0,732.7 420.0,732.7 420.0,730.0 416.0,730.0 416.0,728.3 412.0,728.3 412.0,728.1 408.0,728.1 408.0,727.9 404.0,727.9 404.0,727.7 400.0,727.7 400.0,727.5 396.0,727.5 396.0,727.3 392.0,727.3 392.0,725.8 388.0,725.8 388.0,723.8 384.0,723.8 384.0,721.8 380.0,721.8 380.0,719.8 376.0,719.8 376.0,717.8 372.0,717.8 372.0,715.8 368.0,715.8 368.0,713.9 364.0,713.9 364.0,712.2 360.0,712.2 360.0,711.6 356.0,711.6 356.0,710.9 352.0,710.9 352.0,710.2 348.0,710.2 348.0,709.4 344.0,709.4 344.0,708.2 340.0,708.2 340.0,707.0 336.0,707.0 336.0,705.8 332.0,705.8 332.0,704.6 328.0,704.6 328.0,703.3 324.0,703.3 324.0,702.0 320.0,702.0 320.0,700.0 316.0,700.0 316.0,698.0 312.0,698.0 312.0,695.8 308.0,695.8 308.0,693.4 304.0,693.4 304.0,691.0 300.0,691.0 300.0,688.9 296.0,688.9 296.0,687.3 292.0,687.3 292.0,685.7 288.0,685.7 288.0,684.2 284.0,684.2 284.0,683.1 280.0,683.1 280.0,682.0 276.0,682.0 276.0,680.6 272.0,680.6 272.0,677.1 268.0,677.1 268.0,673.8 264.0,673.8 264.0,670.8 260.0,670.8 260.0,667.8 256.0,667.8 256.0,664.0 252.0,664.0 252.0,660.0 248.0,660.0 248.0,656.0 244.0,656.0 244.0,652.0 240.0,652.0 240.0,650.0 236.0,650.0 236.0,645.0 232.0,645.0 232.0,640.0 228.0,640.0 228.0,636.8 224.0,636.8 224.0,635.8 220.0,635.8 220.0,634.8 216.0,634.8 216.0,626.8 212.0,626.8 212.0,620.8 208.0,620.8 208.0,620.5 204.0,620.5 204.0,618.5 200.0,618.5 200.0,612.4 196.0,612.4 196.0,611.7 192.0,611.7 192.0,605.7 188.0,605.7 188.0,599.9 184.0,599.9 184.0,594.1 180.0,594.1 180.0,585.3 176.0,585.3 176.0,582.4 172.0,582.4 172.0,580.9 168.0,580.9 168.0,575.0 164.0,575.0 164.0,572.9 160.0,572.9 160.0,560.6 156.0,560.6 156.0,555.4 152.0,555.4 152.0,554.0 148.0,554.0 148.0,539.1 144.0,539.1 144.0,534.2 140.0,534.2 140.0,531.5 136.0,531.5 136.0,524.4 132.0,524.4 132.0,520.2 128.0,520.2 128.0,514.4 124.0,514.4 124.0,507.5 120.0,507.5 120.0,506.5 116.0,506.5 116.0,505.0 112.0,505.0 112.0,483.5 108.0,483.5 108.0,483.5 104.0,483.5 104.0,483.5 100.0,483.5 100.0,483.5 96.0,483.5 96.0,483.5 92.0,483.5 92.0,483.5 88.0,483.5" fill="#B4B2DB"/>
<polygon points="88.0,484.2 92.0,484.2 92.0,485.6 96.0,485.6 96.0,489.2 100.0,489.2 100.0,494.1 104.0,494.1 104.0,501.0 108.0,501.0 108.0,511.0 112.0,511.0 112.0,521.2 116.0,521.2 116.0,576.2 120.0,576.2 120.0,578.1 124.0,578.1 124.0,595.0 128.0,595.0 128.0,597.0 132.0,597.0 132.0,606.1 136.0,606.1 136.0,623.6 140.0,623.6 140.0,634.3 144.0,634.3 144.0,642.9 148.0,642.9 148.0,650.2 152.0,650.2 152.0,660.1 156.0,660.1 156.0,663.7 160.0,663.7 160.0,664.5 164.0,664.5 164.0,683.7 168.0,683.7 168.0,687.1 172.0,687.1 172.0,688.7 176.0,688.7 176.0,697.6 180.0,697.6 180.0,704.3 184.0,704.3 184.0,708.2 188.0,708.2 188.0,712.3 192.0,712.3 192.0,716.4 196.0,716.4 196.0,719.6 200.0,719.6 200.0,722.6 204.0,722.6 204.0,725.8 208.0,725.8 208.0,729.3 212.0,729.3 212.0,733.0 216.0,733.0 216.0,737.1 220.0,737.1 220.0,741.5 224.0,741.5 224.0,745.9 228.0,745.9 228.0,748.5 232.0,748.5 232.0,750.5 236.0,750.5 236.0,752.5 240.0,752.5 240.0,754.5 244.0,754.5 244.0,757.2 248.0,757.2 248.0,759.9 252.0,759.9 252.0,762.7 256.0,762.7 256.0,764.3 260.0,764.3 260.0,765.8 264.0,765.8 264.0,767.3 268.0,767.3 268.0,768.8 272.0,768.8 272.0,770.0 276.0,770.0 276.0,770.9 280.0,770.9 280.0,771.8 284.0,771.8 284.0,772.8 288.0,772.8 288.0,773.5 292.0,773.5 292.0,774.2 296.0,774.2 296.0,774.9 300.0,774.9 300.0,775.6 304.0,775.6 304.0,776.6 308.0,776.6 308.0,778.2 312.0,778.2 312.0,779.8 316.0,779.8 316.0,781.2 320.0,781.2 320.0,781.8 324.0,781.8 324.0,782.5 328.0,782.5 328.0,783.2 332.0,783.2 332.0,783.8 336.0,783.8 336.0,784.5 340.0,784.5 340.0,785.2 344.0,785.2 344.0,785.8 348.0,785.8 348.0,786.2 352.0,786.2 352.0,786.5 356.0,786.5 356.0,786.7 360.0,786.7 360.0,787.0 364.0,787.0 364.0,787.3 368.0,787.3 368.0,787.5 372.0,787.5 372.0,787.8 376.0,787.8 376.0,787.8 380.0,787.8 380.0,787.8 384.0,787.8 384.0,787.9 388.0,787.9 388.0,787.9 392.0,787.9 392.0,787.9 396.0,787.9 396.0,787.9 400.0,787.9 400.0,788.0 404.0,788.0 404.0,788.0 408.0,788.0 408.0,788.0 412.0,788.0 412.0,788.0 416.0,788.0 416.0,788.1 420.0,788.1 420.0,788.1 424.0,788.1 424.0,788.1 428.0,788.1 428.0,788.1 432.0,788.1 432.0,788.2 436.0,788.2 436.0,788.2 440.0,788.2 440.0,788.2 444.0,788.2 444.0,788.2 448.0,788.2 448.0,788.3 452.0,788.3 452.0,788.3 456.0,788.3 456.0,788.3 460.0,788.3 460.0,788.4 464.0,788.4 464.0,788.4 468.0,788.4 468.0,788.4 472.0,788.4 472.0,788.4 476.0,788.4 476.0,788.5 480.0,788.5 480.0,788.5 484.0,788.5 484.0,788.5 486.0,788.5 486.0,788.5 486.0,790.0 486.0,790.0 484.0,790.0 484.0,790.0 480.0,790.0 480.0,790.0 476.0,790.0 476.0,790.0 472.0,790.0 472.0,790.0 468.0,790.0 468.0,790.0 464.0,790.0 464.0,790.0 460.0,790.0 460.0,790.0 456.0,790.0 456.0,790.0 452.0,790.0 452.0,790.0 448.0,790.0 448.0,790.0 444.0,790.0 444.0,790.0 440.0,790.0 440.0,790.0 436.0,790.0 436.0,790.0 432.0,790.0 432.0,790.0 428.0,790.0 428.0,790.0 424.0,790.0 424.0,790.0 420.0,790.0 420.0,790.0 416.0,790.0 416.0,790.0 412.0,790.0 412.0,790.0 408.0,790.0 408.0,790.0 404.0,790.0 404.0,790.0 400.0,790.0 400.0,790.0 396.0,790.0 396.0,790.0 392.0,790.0 392.0,790.0 388.0,790.0 388.0,790.0 384.0,790.0 384.0,790.0 380.0,790.0 380.0,790.0 376.0,790.0 376.0,790.0 372.0,790.0 372.0,790.0 368.0,790.0 368.0,790.0 364.0,790.0 364.0,790.0 360.0,790.0 360.0,790.0 356.0,790.0 356.0,790.0 352.0,790.0 352.0,790.0 348.0,790.0 348.0,790.0 344.0,790.0 344.0,790.0 340.0,790.0 340.0,790.0 336.0,790.0 336.0,790.0 332.0,790.0 332.0,790.0 328.0,790.0 328.0,790.0 324.0,790.0 324.0,790.0 320.0,790.0 320.0,790.0 316.0,790.0 316.0,790.0 312.0,790.0 312.0,790.0 308.0,790.0 308.0,790.0 304.0,790.0 304.0,790.0 300.0,790.0 300.0,790.0 296.0,790.0 296.0,790.0 292.0,790.0 292.0,790.0 288.0,790.0 288.0,788.4 284.0,788.4 284.0,782.0 280.0,782.0 280.0,781.7 276.0,781.7 276.0,781.5 272.0,781.5 272.0,781.2 268.0,781.2 268.0,780.9 264.0,780.9 264.0,780.2 260.0,780.2 260.0,779.6 256.0,779.6 256.0,779.0 252.0,779.0 252.0,778.5 248.0,778.5 248.0,777.6 244.0,777.6 244.0,776.0 240.0,776.0 240.0,774.4 236.0,774.4 236.0,772.8 232.0,772.8 232.0,771.3 228.0,771.3 228.0,770.0 224.0,770.0 224.0,768.7 220.0,768.7 220.0,767.3 216.0,767.3 216.0,764.0 212.0,764.0 212.0,761.0 208.0,761.0 208.0,759.0 204.0,759.0 204.0,757.0 200.0,757.0 200.0,754.0 196.0,754.0 196.0,751.0 192.0,751.0 192.0,745.5 188.0,745.5 188.0,739.0 184.0,739.0 184.0,737.0 180.0,737.0 180.0,735.0 176.0,735.0 176.0,730.0 172.0,730.0 172.0,725.5 168.0,725.5 168.0,722.5 164.0,722.5 164.0,719.5 160.0,719.5 160.0,713.9 156.0,713.9 156.0,708.4 152.0,708.4 152.0,698.2 148.0,698.2 148.0,674.5 144.0,674.5 144.0,668.5 140.0,668.5 140.0,661.0 136.0,661.0 136.0,648.7 132.0,648.7 132.0,641.5 128.0,641.5 128.0,632.0 124.0,632.0 124.0,621.2 120.0,621.2 120.0,601.0 116.0,601.0 116.0,595.2 112.0,595.2 112.0,582.3 108.0,582.3 108.0,554.8 104.0,554.8 104.0,533.9 100.0,533.9 100.0,514.0 96.0,514.0 96.0,495.8 92.0,495.8 92.0,488.1 88.0,488.1" fill="#FDEEF5"/>
<polygon points="88.0,484.4 92.0,484.4 92.0,486.1 96.0,486.1 96.0,489.0 100.0,489.0 100.0,493.0 104.0,493.0 104.0,498.3 108.0,498.3 108.0,505.0 112.0,505.0 112.0,515.0 116.0,515.0 116.0,533.0 120.0,533.0 120.0,543.6 124.0,543.6 124.0,553.6 128.0,553.6 128.0,564.2 132.0,564.2 132.0,577.8 136.0,577.8 136.0,585.4 140.0,585.4 140.0,600.8 144.0,600.8 144.0,603.5 148.0,603.5 148.0,609.0 152.0,609.0 152.0,620.3 156.0,620.3 156.0,630.5 160.0,630.5 160.0,638.7 164.0,638.7 164.0,644.8 168.0,644.8 168.0,649.9 172.0,649.9 172.0,658.6 176.0,658.6 176.0,662.9 180.0,662.9 180.0,664.5 184.0,664.5 184.0,672.9 188.0,672.9 188.0,677.0 192.0,677.0 192.0,681.5 196.0,681.5 196.0,687.4 200.0,687.4 200.0,692.0 204.0,692.0 204.0,696.0 208.0,696.0 208.0,700.0 212.0,700.0 212.0,704.0 216.0,704.0 216.0,708.0 220.0,708.0 220.0,710.9 224.0,710.9 224.0,713.4 228.0,713.4 228.0,717.3 232.0,717.3 232.0,720.6 236.0,720.6 236.0,722.9 240.0,722.9 240.0,725.2 244.0,725.2 244.0,727.4 248.0,727.4 248.0,729.3 252.0,729.3 252.0,731.0 256.0,731.0 256.0,732.8 260.0,732.8 260.0,734.5 264.0,734.5 264.0,736.9 268.0,736.9 268.0,739.3 272.0,739.3 272.0,741.7 276.0,741.7 276.0,744.1 280.0,744.1 280.0,746.5 284.0,746.5 284.0,748.9 288.0,748.9 288.0,751.1 292.0,751.1 292.0,753.1 296.0,753.1 296.0,755.2 300.0,755.2 300.0,756.7 304.0,756.7 304.0,757.9 308.0,757.9 308.0,759.0 312.0,759.0 312.0,760.1 316.0,760.1 316.0,761.1 320.0,761.1 320.0,761.7 324.0,761.7 324.0,762.2 328.0,762.2 328.0,762.7 332.0,762.7 332.0,763.4 336.0,763.4 336.0,764.2 340.0,764.2 340.0,765.0 344.0,765.0 344.0,765.8 348.0,765.8 348.0,766.8 352.0,766.8 352.0,767.9 356.0,767.9 356.0,769.7 360.0,769.7 360.0,773.0 364.0,773.0 364.0,773.0 368.0,773.0 368.0,773.0 372.0,773.0 372.0,773.0 376.0,773.0 376.0,773.0 380.0,773.0 380.0,776.3 384.0,776.3 384.0,776.3 388.0,776.3 388.0,776.3 392.0,776.3 392.0,776.3 396.0,776.3 396.0,776.3 400.0,776.3 400.0,776.3 404.0,776.3 404.0,776.3 408.0,776.3 408.0,776.3 412.0,776.3 412.0,776.3 416.0,776.3 416.0,776.4 420.0,776.4 420.0,776.9 424.0,776.9 424.0,777.4 428.0,777.4 428.0,777.9 432.0,777.9 432.0,778.4 436.0,778.4 436.0,778.9 440.0,778.9 440.0,779.4 444.0,779.4 444.0,779.9 448.0,779.9 448.0,780.4 452.0,780.4 452.0,780.9 456.0,780.9 456.0,781.1 460.0,781.1 460.0,781.3 464.0,781.3 464.0,781.5 468.0,781.5 468.0,781.7 472.0,781.7 472.0,781.9 476.0,781.9 476.0,782.0 480.0,782.0 480.0,782.2 484.0,782.2 484.0,782.4 486.0,782.4 486.0,782.4 486.0,788.5 486.0,788.5 484.0,788.5 484.0,788.5 480.0,788.5 480.0,788.5 476.0,788.5 476.0,788.4 472.0,788.4 472.0,788.4 468.0,788.4 468.0,788.4 464.0,788.4 464.0,788.4 460.0,788.4 460.0,788.3 456.0,788.3 456.0,788.3 452.0,788.3 452.0,788.3 448.0,788.3 448.0,788.2 444.0,788.2 444.0,788.2 440.0,788.2 440.0,788.2 436.0,788.2 436.0,788.2 432.0,788.2 432.0,788.1 428.0,788.1 428.0,788.1 424.0,788.1 424.0,788.1 420.0,788.1 420.0,788.1 416.0,788.1 416.0,788.0 412.0,788.0 412.0,788.0 408.0,788.0 408.0,788.0 404.0,788.0 404.0,788.0 400.0,788.0 400.0,787.9 396.0,787.9 396.0,787.9 392.0,787.9 392.0,787.9 388.0,787.9 388.0,787.9 384.0,787.9 384.0,787.8 380.0,787.8 380.0,787.8 376.0,787.8 376.0,787.8 372.0,787.8 372.0,787.5 368.0,787.5 368.0,787.3 364.0,787.3 364.0,787.0 360.0,787.0 360.0,786.7 356.0,786.7 356.0,786.5 352.0,786.5 352.0,786.2 348.0,786.2 348.0,785.8 344.0,785.8 344.0,785.2 340.0,785.2 340.0,784.5 336.0,784.5 336.0,783.8 332.0,783.8 332.0,783.2 328.0,783.2 328.0,782.5 324.0,782.5 324.0,781.8 320.0,781.8 320.0,781.2 316.0,781.2 316.0,779.8 312.0,779.8 312.0,778.2 308.0,778.2 308.0,776.6 304.0,776.6 304.0,775.6 300.0,775.6 300.0,774.9 296.0,774.9 296.0,774.2 292.0,774.2 292.0,773.5 288.0,773.5 288.0,772.8 284.0,772.8 284.0,771.8 280.0,771.8 280.0,770.9 276.0,770.9 276.0,770.0 272.0,770.0 272.0,768.8 268.0,768.8 268.0,767.3 264.0,767.3 264.0,765.8 260.0,765.8 260.0,764.3 256.0,764.3 256.0,762.7 252.0,762.7 252.0,759.9 248.0,759.9 248.0,757.2 244.0,757.2 244.0,754.5 240.0,754.5 240.0,752.5 236.0,752.5 236.0,750.5 232.0,750.5 232.0,748.5 228.0,748.5 228.0,745.9 224.0,745.9 224.0,741.5 220.0,741.5 220.0,737.1 216.0,737.1 216.0,733.0 212.0,733.0 212.0,729.3 208.0,729.3 208.0,725.8 204.0,725.8 204.0,722.6 200.0,722.6 200.0,719.6 196.0,719.6 196.0,716.4 192.0,716.4 192.0,712.3 188.0,712.3 188.0,708.2 184.0,708.2 184.0,704.3 180.0,704.3 180.0,697.6 176.0,697.6 176.0,688.7 172.0,688.7 172.0,687.1 168.0,687.1 168.0,683.7 164.0,683.7 164.0,664.5 160.0,664.5 160.0,663.7 156.0,663.7 156.0,660.1 152.0,660.1 152.0,650.2 148.0,650.2 148.0,642.9 144.0,642.9 144.0,634.3 140.0,634.3 140.0,623.6 136.0,623.6 136.0,606.1 132.0,606.1 132.0,597.0 128.0,597.0 128.0,595.0 124.0,595.0 124.0,578.1 120.0,578.1 120.0,576.2 116.0,576.2 116.0,521.2 112.0,521.2 112.0,511.0 108.0,511.0 108.0,501.0 104.0,501.0 104.0,494.1 100.0,494.1 100.0,489.2 96.0,489.2 96.0,485.6 92.0,485.6 92.0,484.2 88.0,484.2" fill="#FCC4DE"/>
<path d="M88.0,483.5 L92.0,483.5 L92.0,483.5 L96.0,483.5 L96.0,489.0 L100.0,489.0 L100.0,507.0 L104.0,507.0 L104.0,512.0 L108.0,512.0 L108.0,517.0 L112.0,517.0 L112.0,522.8 L116.0,522.8 L116.0,529.5 L120.0,529.5 L120.0,538.2 L124.0,538.2 L124.0,547.9 L128.0,547.9 L128.0,557.0 L132.0,557.0 L132.0,565.7 L136.0,565.7 L136.0,575.0 L140.0,575.0 L140.0,585.0 L144.0,585.0 L144.0,593.7 L148.0,593.7 L148.0,602.0 L152.0,602.0 L152.0,610.0 L156.0,610.0 L156.0,617.8 L160.0,617.8 L160.0,629.8 L164.0,629.8 L164.0,634.4 L168.0,634.4 L168.0,638.6 L172.0,638.6 L172.0,644.5 L176.0,644.5 L176.0,649.9 L180.0,649.9 L180.0,650.7 L184.0,650.7 L184.0,663.2 L188.0,663.2 L188.0,667.4 L192.0,667.4 L192.0,673.4 L196.0,673.4 L196.0,677.0 L200.0,677.0 L200.0,677.0 L204.0,677.0 L204.0,679.5 L208.0,679.5 L208.0,684.8 L212.0,684.8 L212.0,691.3 L216.0,691.3 L216.0,695.7 L220.0,695.7 L220.0,699.7 L224.0,699.7 L224.0,701.8 L228.0,701.8 L228.0,704.3 L232.0,704.3 L232.0,707.5 L236.0,707.5 L236.0,710.4 L240.0,710.4 L240.0,713.3 L244.0,713.3 L244.0,716.3 L248.0,716.3 L248.0,719.0 L252.0,719.0 L252.0,721.7 L256.0,721.7 L256.0,724.3 L260.0,724.3 L260.0,727.0 L264.0,727.0 L264.0,728.6 L268.0,728.6 L268.0,730.2 L272.0,730.2 L272.0,731.8 L276.0,731.8 L276.0,733.3 L280.0,733.3 L280.0,734.7 L284.0,734.7 L284.0,736.0 L288.0,736.0 L288.0,737.3 L292.0,737.3 L292.0,739.0 L296.0,739.0 L296.0,741.1 L300.0,741.1 L300.0,743.2 L304.0,743.2 L304.0,745.3 L308.0,745.3 L308.0,747.4 L312.0,747.4 L312.0,749.4 L316.0,749.4 L316.0,751.3 L320.0,751.3 L320.0,752.4 L324.0,752.4 L324.0,753.5 L328.0,753.5 L328.0,754.7 L332.0,754.7 L332.0,756.4 L336.0,756.4 L336.0,758.1 L340.0,758.1 L340.0,759.9 L344.0,759.9 L344.0,761.6 L348.0,761.6 L348.0,762.1 L352.0,762.1 L352.0,762.3 L356.0,762.3 L356.0,762.5 L360.0,762.5 L360.0,762.6 L364.0,762.6 L364.0,762.8 L368.0,762.8 L368.0,763.0 L372.0,763.0 L372.0,767.0 L376.0,767.0 L376.0,767.0 L380.0,767.0 L380.0,767.0 L384.0,767.0 L384.0,767.0 L388.0,767.0 L388.0,771.0 L392.0,771.0 L392.0,771.0 L396.0,771.0 L396.0,771.0 L400.0,771.0 L400.0,771.0 L404.0,771.0 L404.0,771.0 L408.0,771.0 L408.0,773.2 L412.0,773.2 L412.0,773.5 L416.0,773.5 L416.0,773.8 L420.0,773.8 L420.0,774.1 L424.0,774.1 L424.0,774.4 L428.0,774.4 L428.0,775.0 L432.0,775.0 L432.0,775.6 L436.0,775.6 L436.0,776.1 L440.0,776.1 L440.0,776.7 L444.0,776.7 L444.0,777.2 L448.0,777.2 L448.0,777.5 L452.0,777.5 L452.0,777.9 L456.0,777.9 L456.0,778.2 L460.0,778.2 L460.0,778.5 L464.0,778.5 L464.0,778.7 L468.0,778.7 L468.0,778.9 L472.0,778.9 L472.0,779.1 L476.0,779.1 L476.0,779.3 L480.0,779.3 L480.0,779.5 L484.0,779.5 L484.0,779.7 L486.0,779.7 L486.0,779.7" fill="none" stroke="#A2A2B6" stroke-width="2" stroke-dasharray="4.5 4.5"/>
<path d="M88.0,483.5 L92.0,483.5 L92.0,483.5 L96.0,483.5 L96.0,483.5 L100.0,483.5 L100.0,483.5 L104.0,483.5 L104.0,483.5 L108.0,483.5 L108.0,483.5 L112.0,483.5 L112.0,505.0 L116.0,505.0 L116.0,506.5 L120.0,506.5 L120.0,507.5 L124.0,507.5 L124.0,514.4 L128.0,514.4 L128.0,520.2 L132.0,520.2 L132.0,524.4 L136.0,524.4 L136.0,531.5 L140.0,531.5 L140.0,534.2 L144.0,534.2 L144.0,539.1 L148.0,539.1 L148.0,554.0 L152.0,554.0 L152.0,555.4 L156.0,555.4 L156.0,560.6 L160.0,560.6 L160.0,572.9 L164.0,572.9 L164.0,575.0 L168.0,575.0 L168.0,580.9 L172.0,580.9 L172.0,582.4 L176.0,582.4 L176.0,585.3 L180.0,585.3 L180.0,594.1 L184.0,594.1 L184.0,599.9 L188.0,599.9 L188.0,605.7 L192.0,605.7 L192.0,611.7 L196.0,611.7 L196.0,612.4 L200.0,612.4 L200.0,618.5 L204.0,618.5 L204.0,620.5 L208.0,620.5 L208.0,620.8 L212.0,620.8 L212.0,626.8 L216.0,626.8 L216.0,634.8 L220.0,634.8 L220.0,635.8 L224.0,635.8 L224.0,636.8 L228.0,636.8 L228.0,640.0 L232.0,640.0 L232.0,645.0 L236.0,645.0 L236.0,650.0 L240.0,650.0 L240.0,652.0 L244.0,652.0 L244.0,656.0 L248.0,656.0 L248.0,660.0 L252.0,660.0 L252.0,664.0 L256.0,664.0 L256.0,667.8 L260.0,667.8 L260.0,670.8 L264.0,670.8 L264.0,673.8 L268.0,673.8 L268.0,677.1 L272.0,677.1 L272.0,680.6 L276.0,680.6 L276.0,682.0 L280.0,682.0 L280.0,683.1 L284.0,683.1 L284.0,684.2 L288.0,684.2 L288.0,685.7 L292.0,685.7 L292.0,687.3 L296.0,687.3 L296.0,688.9 L300.0,688.9 L300.0,691.0 L304.0,691.0 L304.0,693.4 L308.0,693.4 L308.0,695.8 L312.0,695.8 L312.0,698.0 L316.0,698.0 L316.0,700.0 L320.0,700.0 L320.0,702.0 L324.0,702.0 L324.0,703.3 L328.0,703.3 L328.0,704.6 L332.0,704.6 L332.0,705.8 L336.0,705.8 L336.0,707.0 L340.0,707.0 L340.0,708.2 L344.0,708.2 L344.0,709.4 L348.0,709.4 L348.0,710.2 L352.0,710.2 L352.0,710.9 L356.0,710.9 L356.0,711.6 L360.0,711.6 L360.0,712.2 L364.0,712.2 L364.0,713.9 L368.0,713.9 L368.0,715.8 L372.0,715.8 L372.0,717.8 L376.0,717.8 L376.0,719.8 L380.0,719.8 L380.0,721.8 L384.0,721.8 L384.0,723.8 L388.0,723.8 L388.0,725.8 L392.0,725.8 L392.0,727.3 L396.0,727.3 L396.0,727.5 L400.0,727.5 L400.0,727.7 L404.0,727.7 L404.0,727.9 L408.0,727.9 L408.0,728.1 L412.0,728.1 L412.0,728.3 L416.0,728.3 L416.0,730.0 L420.0,730.0 L420.0,732.7 L424.0,732.7 L424.0,732.9 L428.0,732.9 L428.0,733.0 L432.0,733.0 L432.0,733.2 L436.0,733.2 L436.0,733.4 L440.0,733.4 L440.0,733.6 L444.0,733.6 L444.0,733.7 L448.0,733.7 L448.0,733.9 L452.0,733.9 L452.0,736.0 L456.0,736.0 L456.0,740.0 L460.0,740.0 L460.0,742.3 L464.0,742.3 L464.0,743.0 L468.0,743.0 L468.0,743.7 L472.0,743.7 L472.0,744.4 L476.0,744.4 L476.0,745.0 L480.0,745.0 L480.0,745.5 L484.0,745.5 L484.0,746.0 L486.0,746.0 L486.0,746.0" fill="none" stroke="#55558E" stroke-width="2" stroke-dasharray="4.5 4.5"/>
<path d="M88.0,483.5 L92.0,483.5 L92.0,483.5 L96.0,483.5 L96.0,483.5 L100.0,483.5 L100.0,483.5 L104.0,483.5 L104.0,483.5 L108.0,483.5 L108.0,483.5 L112.0,483.5 L112.0,483.5 L116.0,483.5 L116.0,483.5 L120.0,483.5 L120.0,483.5 L124.0,483.5 L124.0,483.5 L128.0,483.5 L128.0,483.5 L132.0,483.5 L132.0,483.5 L136.0,483.5 L136.0,483.5 L140.0,483.5 L140.0,499.5 L144.0,499.5 L144.0,500.7 L148.0,500.7 L148.0,505.0 L152.0,505.0 L152.0,509.0 L156.0,509.0 L156.0,512.5 L160.0,512.5 L160.0,516.0 L164.0,516.0 L164.0,518.5 L168.0,518.5 L168.0,521.0 L172.0,521.0 L172.0,523.7 L176.0,523.7 L176.0,533.4 L180.0,533.4 L180.0,539.8 L184.0,539.8 L184.0,542.1 L188.0,542.1 L188.0,543.9 L192.0,543.9 L192.0,545.6 L196.0,545.6 L196.0,551.2 L200.0,551.2 L200.0,552.8 L204.0,552.8 L204.0,555.1 L208.0,555.1 L208.0,559.7 L212.0,559.7 L212.0,563.4 L216.0,563.4 L216.0,566.4 L220.0,566.4 L220.0,569.8 L224.0,569.8 L224.0,573.5 L228.0,573.5 L228.0,577.5 L232.0,577.5 L232.0,581.5 L236.0,581.5 L236.0,584.3 L240.0,584.3 L240.0,587.0 L244.0,587.0 L244.0,589.7 L248.0,589.7 L248.0,592.3 L252.0,592.3 L252.0,595.0 L256.0,595.0 L256.0,598.0 L260.0,598.0 L260.0,602.0 L264.0,602.0 L264.0,605.1 L268.0,605.1 L268.0,606.7 L272.0,606.7 L272.0,608.3 L276.0,608.3 L276.0,610.2 L280.0,610.2 L280.0,612.8 L284.0,612.8 L284.0,615.5 L288.0,615.5 L288.0,618.2 L292.0,618.2 L292.0,625.8 L296.0,625.8 L296.0,632.6 L300.0,632.6 L300.0,633.8 L304.0,633.8 L304.0,634.6 L308.0,634.6 L308.0,634.9 L312.0,634.9 L312.0,635.2 L316.0,635.2 L316.0,635.5 L320.0,635.5 L320.0,635.8 L324.0,635.8 L324.0,639.6 L328.0,639.6 L328.0,644.7 L332.0,644.7 L332.0,645.2 L336.0,645.2 L336.0,645.6 L340.0,645.6 L340.0,646.0 L344.0,646.0 L344.0,646.5 L348.0,646.5 L348.0,649.1 L352.0,649.1 L352.0,652.5 L356.0,652.5 L356.0,653.6 L360.0,653.6 L360.0,653.9 L364.0,653.9 L364.0,654.2 L368.0,654.2 L368.0,654.5 L372.0,654.5 L372.0,662.8 L376.0,662.8 L376.0,664.8 L380.0,664.8 L380.0,666.8 L384.0,666.8 L384.0,667.1 L388.0,667.1 L388.0,667.4 L392.0,667.4 L392.0,667.7 L396.0,667.7 L396.0,668.0 L400.0,668.0 L400.0,675.4 L404.0,675.4 L404.0,676.1 L408.0,676.1 L408.0,676.8 L412.0,676.8 L412.0,677.4 L416.0,677.4 L416.0,677.7 L420.0,677.7 L420.0,677.9 L424.0,677.9 L424.0,678.0 L428.0,678.0 L428.0,678.2 L432.0,678.2 L432.0,678.4 L436.0,678.4 L436.0,678.6 L440.0,678.6 L440.0,678.8 L444.0,678.8 L444.0,679.0 L448.0,679.0 L448.0,685.6 L452.0,685.6 L452.0,685.8 L456.0,685.8 L456.0,686.0 L460.0,686.0 L460.0,686.2 L464.0,686.2 L464.0,686.4 L468.0,686.4 L468.0,686.6 L472.0,686.6 L472.0,689.0 L476.0,689.0 L476.0,693.9 L480.0,693.9 L480.0,694.5 L484.0,694.5 L484.0,695.0 L486.0,695.0 L486.0,695.0" fill="none" stroke="#45457A" stroke-width="2" stroke-dasharray="4.5 4.5"/>
<path d="M88.0,488.1 L92.0,488.1 L92.0,495.8 L96.0,495.8 L96.0,514.0 L100.0,514.0 L100.0,533.9 L104.0,533.9 L104.0,554.8 L108.0,554.8 L108.0,582.3 L112.0,582.3 L112.0,595.2 L116.0,595.2 L116.0,601.0 L120.0,601.0 L120.0,621.2 L124.0,621.2 L124.0,632.0 L128.0,632.0 L128.0,641.5 L132.0,641.5 L132.0,648.7 L136.0,648.7 L136.0,661.0 L140.0,661.0 L140.0,668.5 L144.0,668.5 L144.0,674.5 L148.0,674.5 L148.0,698.2 L152.0,698.2 L152.0,708.4 L156.0,708.4 L156.0,713.9 L160.0,713.9 L160.0,719.5 L164.0,719.5 L164.0,722.5 L168.0,722.5 L168.0,725.5 L172.0,725.5 L172.0,730.0 L176.0,730.0 L176.0,735.0 L180.0,735.0 L180.0,737.0 L184.0,737.0 L184.0,739.0 L188.0,739.0 L188.0,745.5 L192.0,745.5 L192.0,751.0 L196.0,751.0 L196.0,754.0 L200.0,754.0 L200.0,757.0 L204.0,757.0 L204.0,759.0 L208.0,759.0 L208.0,761.0 L212.0,761.0 L212.0,764.0 L216.0,764.0 L216.0,767.3 L220.0,767.3 L220.0,768.7 L224.0,768.7 L224.0,770.0 L228.0,770.0 L228.0,771.3 L232.0,771.3 L232.0,772.8 L236.0,772.8 L236.0,774.4 L240.0,774.4 L240.0,776.0 L244.0,776.0 L244.0,777.6 L248.0,777.6 L248.0,778.5 L252.0,778.5 L252.0,779.0 L256.0,779.0 L256.0,779.6 L260.0,779.6 L260.0,780.2 L264.0,780.2 L264.0,780.9 L268.0,780.9 L268.0,781.2 L272.0,781.2 L272.0,781.5 L276.0,781.5 L276.0,781.7 L280.0,781.7 L280.0,782.0 L284.0,782.0 L284.0,788.4 L288.0,788.4 L288.0,790.0 L292.0,790.0 L292.0,790.0 L296.0,790.0 L296.0,790.0 L300.0,790.0 L300.0,790.0 L304.0,790.0 L304.0,790.0 L308.0,790.0 L308.0,790.0 L312.0,790.0 L312.0,790.0 L316.0,790.0 L316.0,790.0 L320.0,790.0 L320.0,790.0 L324.0,790.0 L324.0,790.0 L328.0,790.0 L328.0,790.0 L332.0,790.0 L332.0,790.0 L336.0,790.0 L336.0,790.0 L340.0,790.0 L340.0,790.0 L344.0,790.0 L344.0,790.0 L348.0,790.0 L348.0,790.0 L352.0,790.0 L352.0,790.0 L356.0,790.0 L356.0,790.0 L360.0,790.0 L360.0,790.0 L364.0,790.0 L364.0,790.0 L368.0,790.0 L368.0,790.0 L372.0,790.0 L372.0,790.0 L376.0,790.0 L376.0,790.0 L380.0,790.0 L380.0,790.0 L384.0,790.0 L384.0,790.0 L388.0,790.0 L388.0,790.0 L392.0,790.0 L392.0,790.0 L396.0,790.0 L396.0,790.0 L400.0,790.0 L400.0,790.0 L404.0,790.0 L404.0,790.0 L408.0,790.0 L408.0,790.0 L412.0,790.0 L412.0,790.0 L416.0,790.0 L416.0,790.0 L420.0,790.0 L420.0,790.0 L424.0,790.0 L424.0,790.0 L428.0,790.0 L428.0,790.0 L432.0,790.0 L432.0,790.0 L436.0,790.0 L436.0,790.0 L440.0,790.0 L440.0,790.0 L444.0,790.0 L444.0,790.0 L448.0,790.0 L448.0,790.0 L452.0,790.0 L452.0,790.0 L456.0,790.0 L456.0,790.0 L460.0,790.0 L460.0,790.0 L464.0,790.0 L464.0,790.0 L468.0,790.0 L468.0,790.0 L472.0,790.0 L472.0,790.0 L476.0,790.0 L476.0,790.0 L480.0,790.0 L480.0,790.0 L484.0,790.0 L484.0,790.0 L486.0,790.0 L486.0,790.0" fill="none" stroke="#E4BCC8" stroke-width="2" stroke-dasharray="4.5 4.5"/>
<path d="M88.0,484.2 L92.0,484.2 L92.0,485.6 L96.0,485.6 L96.0,489.2 L100.0,489.2 L100.0,494.1 L104.0,494.1 L104.0,501.0 L108.0,501.0 L108.0,511.0 L112.0,511.0 L112.0,521.2 L116.0,521.2 L116.0,576.2 L120.0,576.2 L120.0,578.1 L124.0,578.1 L124.0,595.0 L128.0,595.0 L128.0,597.0 L132.0,597.0 L132.0,606.1 L136.0,606.1 L136.0,623.6 L140.0,623.6 L140.0,634.3 L144.0,634.3 L144.0,642.9 L148.0,642.9 L148.0,650.2 L152.0,650.2 L152.0,660.1 L156.0,660.1 L156.0,663.7 L160.0,663.7 L160.0,664.5 L164.0,664.5 L164.0,683.7 L168.0,683.7 L168.0,687.1 L172.0,687.1 L172.0,688.7 L176.0,688.7 L176.0,697.6 L180.0,697.6 L180.0,704.3 L184.0,704.3 L184.0,708.2 L188.0,708.2 L188.0,712.3 L192.0,712.3 L192.0,716.4 L196.0,716.4 L196.0,719.6 L200.0,719.6 L200.0,722.6 L204.0,722.6 L204.0,725.8 L208.0,725.8 L208.0,729.3 L212.0,729.3 L212.0,733.0 L216.0,733.0 L216.0,737.1 L220.0,737.1 L220.0,741.5 L224.0,741.5 L224.0,745.9 L228.0,745.9 L228.0,748.5 L232.0,748.5 L232.0,750.5 L236.0,750.5 L236.0,752.5 L240.0,752.5 L240.0,754.5 L244.0,754.5 L244.0,757.2 L248.0,757.2 L248.0,759.9 L252.0,759.9 L252.0,762.7 L256.0,762.7 L256.0,764.3 L260.0,764.3 L260.0,765.8 L264.0,765.8 L264.0,767.3 L268.0,767.3 L268.0,768.8 L272.0,768.8 L272.0,770.0 L276.0,770.0 L276.0,770.9 L280.0,770.9 L280.0,771.8 L284.0,771.8 L284.0,772.8 L288.0,772.8 L288.0,773.5 L292.0,773.5 L292.0,774.2 L296.0,774.2 L296.0,774.9 L300.0,774.9 L300.0,775.6 L304.0,775.6 L304.0,776.6 L308.0,776.6 L308.0,778.2 L312.0,778.2 L312.0,779.8 L316.0,779.8 L316.0,781.2 L320.0,781.2 L320.0,781.8 L324.0,781.8 L324.0,782.5 L328.0,782.5 L328.0,783.2 L332.0,783.2 L332.0,783.8 L336.0,783.8 L336.0,784.5 L340.0,784.5 L340.0,785.2 L344.0,785.2 L344.0,785.8 L348.0,785.8 L348.0,786.2 L352.0,786.2 L352.0,786.5 L356.0,786.5 L356.0,786.7 L360.0,786.7 L360.0,787.0 L364.0,787.0 L364.0,787.3 L368.0,787.3 L368.0,787.5 L372.0,787.5 L372.0,787.8 L376.0,787.8 L376.0,787.8 L380.0,787.8 L380.0,787.8 L384.0,787.8 L384.0,787.9 L388.0,787.9 L388.0,787.9 L392.0,787.9 L392.0,787.9 L396.0,787.9 L396.0,787.9 L400.0,787.9 L400.0,788.0 L404.0,788.0 L404.0,788.0 L408.0,788.0 L408.0,788.0 L412.0,788.0 L412.0,788.0 L416.0,788.0 L416.0,788.1 L420.0,788.1 L420.0,788.1 L424.0,788.1 L424.0,788.1 L428.0,788.1 L428.0,788.1 L432.0,788.1 L432.0,788.2 L436.0,788.2 L436.0,788.2 L440.0,788.2 L440.0,788.2 L444.0,788.2 L444.0,788.2 L448.0,788.2 L448.0,788.3 L452.0,788.3 L452.0,788.3 L456.0,788.3 L456.0,788.3 L460.0,788.3 L460.0,788.4 L464.0,788.4 L464.0,788.4 L468.0,788.4 L468.0,788.4 L472.0,788.4 L472.0,788.4 L476.0,788.4 L476.0,788.5 L480.0,788.5 L480.0,788.5 L484.0,788.5 L484.0,788.5 L486.0,788.5 L486.0,788.5" fill="none" stroke="#CC6C90" stroke-width="2" stroke-dasharray="4.5 4.5"/>
<path d="M88.0,484.4 L92.0,484.4 L92.0,486.1 L96.0,486.1 L96.0,489.0 L100.0,489.0 L100.0,493.0 L104.0,493.0 L104.0,498.3 L108.0,498.3 L108.0,505.0 L112.0,505.0 L112.0,515.0 L116.0,515.0 L116.0,533.0 L120.0,533.0 L120.0,543.6 L124.0,543.6 L124.0,553.6 L128.0,553.6 L128.0,564.2 L132.0,564.2 L132.0,577.8 L136.0,577.8 L136.0,585.4 L140.0,585.4 L140.0,600.8 L144.0,600.8 L144.0,603.5 L148.0,603.5 L148.0,609.0 L152.0,609.0 L152.0,620.3 L156.0,620.3 L156.0,630.5 L160.0,630.5 L160.0,638.7 L164.0,638.7 L164.0,644.8 L168.0,644.8 L168.0,649.9 L172.0,649.9 L172.0,658.6 L176.0,658.6 L176.0,662.9 L180.0,662.9 L180.0,664.5 L184.0,664.5 L184.0,672.9 L188.0,672.9 L188.0,677.0 L192.0,677.0 L192.0,681.5 L196.0,681.5 L196.0,687.4 L200.0,687.4 L200.0,692.0 L204.0,692.0 L204.0,696.0 L208.0,696.0 L208.0,700.0 L212.0,700.0 L212.0,704.0 L216.0,704.0 L216.0,708.0 L220.0,708.0 L220.0,710.9 L224.0,710.9 L224.0,713.4 L228.0,713.4 L228.0,717.3 L232.0,717.3 L232.0,720.6 L236.0,720.6 L236.0,722.9 L240.0,722.9 L240.0,725.2 L244.0,725.2 L244.0,727.4 L248.0,727.4 L248.0,729.3 L252.0,729.3 L252.0,731.0 L256.0,731.0 L256.0,732.8 L260.0,732.8 L260.0,734.5 L264.0,734.5 L264.0,736.9 L268.0,736.9 L268.0,739.3 L272.0,739.3 L272.0,741.7 L276.0,741.7 L276.0,744.1 L280.0,744.1 L280.0,746.5 L284.0,746.5 L284.0,748.9 L288.0,748.9 L288.0,751.1 L292.0,751.1 L292.0,753.1 L296.0,753.1 L296.0,755.2 L300.0,755.2 L300.0,756.7 L304.0,756.7 L304.0,757.9 L308.0,757.9 L308.0,759.0 L312.0,759.0 L312.0,760.1 L316.0,760.1 L316.0,761.1 L320.0,761.1 L320.0,761.7 L324.0,761.7 L324.0,762.2 L328.0,762.2 L328.0,762.7 L332.0,762.7 L332.0,763.4 L336.0,763.4 L336.0,764.2 L340.0,764.2 L340.0,765.0 L344.0,765.0 L344.0,765.8 L348.0,765.8 L348.0,766.8 L352.0,766.8 L352.0,767.9 L356.0,767.9 L356.0,769.7 L360.0,769.7 L360.0,773.0 L364.0,773.0 L364.0,773.0 L368.0,773.0 L368.0,773.0 L372.0,773.0 L372.0,773.0 L376.0,773.0 L376.0,773.0 L380.0,773.0 L380.0,776.3 L384.0,776.3 L384.0,776.3 L388.0,776.3 L388.0,776.3 L392.0,776.3 L392.0,776.3 L396.0,776.3 L396.0,776.3 L400.0,776.3 L400.0,776.3 L404.0,776.3 L404.0,776.3 L408.0,776.3 L408.0,776.3 L412.0,776.3 L412.0,776.3 L416.0,776.3 L416.0,776.4 L420.0,776.4 L420.0,776.9 L424.0,776.9 L424.0,777.4 L428.0,777.4 L428.0,777.9 L432.0,777.9 L432.0,778.4 L436.0,778.4 L436.0,778.9 L440.0,778.9 L440.0,779.4 L444.0,779.4 L444.0,779.9 L448.0,779.9 L448.0,780.4 L452.0,780.4 L452.0,780.9 L456.0,780.9 L456.0,781.1 L460.0,781.1 L460.0,781.3 L464.0,781.3 L464.0,781.5 L468.0,781.5 L468.0,781.7 L472.0,781.7 L472.0,781.9 L476.0,781.9 L476.0,782.0 L480.0,782.0 L480.0,782.2 L484.0,782.2 L484.0,782.4 L486.0,782.4 L486.0,782.4" fill="none" stroke="#C4527C" stroke-width="2" stroke-dasharray="4.5 4.5"/>
<polyline points="87.5,483.5 98.0,483.5 98.0,507.0 101.0,507.0 101.0,528.8 132.3,528.8 132.3,553.8 134.4,553.8 134.4,576.5 182.6,576.5 182.6,600.3 185.3,600.3 185.3,621.8 205.9,621.8 205.9,651.7 311.0,651.7 311.0,721.0 462.8,721.0 462.8,790.0" fill="none" stroke="#2A2A85" stroke-width="2.7"/>
<polyline points="87.5,483.5 89.8,483.5 89.8,487.5 92.0,487.5 92.0,492.5 95.0,492.5 95.0,497.5 96.0,497.5 96.0,505.0 97.0,505.0 97.0,510.0 98.5,510.0 98.5,516.0 100.0,516.0 100.0,522.5 101.6,522.5 101.6,532.3 104.8,532.3 104.8,547.3 107.0,547.3 107.0,561.5 108.8,561.5 108.8,577.3 112.5,577.3 112.5,593.5 118.5,593.5 118.5,601.5 120.6,601.5 120.6,620.0 123.0,620.0 123.0,622.0 125.0,622.0 125.0,632.0 127.0,632.0 127.0,639.5 133.0,639.5 133.0,644.5 135.0,644.5 135.0,657.0 140.0,657.0 140.0,667.0 145.0,667.0 145.0,674.5 147.0,674.5 147.0,689.5 152.5,689.5 152.5,706.5 166.0,706.5 166.0,715.8 185.0,715.8 185.0,721.0 198.0,721.0 198.0,726.0 216.0,726.0 216.0,733.0 244.5,733.0 244.5,739.5 264.5,739.5 264.5,759.5 274.5,759.5 274.5,773.0" fill="none" stroke="#D4127A" stroke-width="2.6"/></g>
<line x1="153.9" y1="783.0" x2="153.9" y2="790.0" stroke="#C8A070" stroke-width="1"/>
<line x1="220.3" y1="783.0" x2="220.3" y2="790.0" stroke="#C8A070" stroke-width="1"/>
<line x1="286.8" y1="783.0" x2="286.8" y2="790.0" stroke="#C8A070" stroke-width="1"/>
<line x1="353.2" y1="783.0" x2="353.2" y2="790.0" stroke="#C8A070" stroke-width="1"/>
<line x1="419.6" y1="783.0" x2="419.6" y2="790.0" stroke="#C8A070" stroke-width="1"/>
<line x1="87.5" y1="728.7" x2="93.5" y2="728.7" stroke="#C8A070" stroke-width="1"/>
<line x1="87.5" y1="667.4" x2="93.5" y2="667.4" stroke="#C8A070" stroke-width="1"/>
<line x1="87.5" y1="606.1" x2="93.5" y2="606.1" stroke="#C8A070" stroke-width="1"/>
<line x1="87.5" y1="544.8" x2="93.5" y2="544.8" stroke="#C8A070" stroke-width="1"/>
<rect x="87.5" y="483.5" width="398.5" height="306.5" fill="none" stroke="#E3982C" stroke-width="2"/>
<text x="80" y="796.4" text-anchor="end" class="tl">0.0</text>
<text x="80" y="735.1" text-anchor="end" class="tl">0.2</text>
<text x="80" y="673.8" text-anchor="end" class="tl">0.4</text>
<text x="80" y="612.5" text-anchor="end" class="tl">0.6</text>
<text x="80" y="551.2" text-anchor="end" class="tl">0.8</text>
<text x="80" y="489.9" text-anchor="end" class="tl">1.0</text>
<text x="87.5" y="810.6" text-anchor="middle" class="tl">0</text>
<text x="153.9" y="810.6" text-anchor="middle" class="tl">10</text>
<text x="220.3" y="810.6" text-anchor="middle" class="tl">20</text>
<text x="286.8" y="810.6" text-anchor="middle" class="tl">30</text>
<text x="353.2" y="810.6" text-anchor="middle" class="tl">40</text>
<text x="419.6" y="810.6" text-anchor="middle" class="tl">50</text>
<text x="486.0" y="810.6" text-anchor="middle" class="tl">60</text>
<text x="286.8" y="837.0" text-anchor="middle" class="ax">Time (months)</text>
<text transform="translate(40.4,636.8) rotate(-90)" x="0" y="0" text-anchor="middle" class="ax">Progression free survival</text>
<line x1="316.2" y1="59.8" x2="343.8" y2="59.8" stroke="#2A2A85" stroke-width="2.7"/>
<text x="351" y="65.6" class="lg">Observed PFS</text>
<text x="316.7" y="93.5" class="lg">Predicted PFS:</text>
<line x1="315.6" y1="115.6" x2="341" y2="115.6" stroke="#4C4C7C" stroke-width="2.3" stroke-dasharray="5.6 3.9"/>
<text x="351" y="122" class="lg">95th percentile</text>
<line x1="315.6" y1="137.8" x2="341" y2="137.8" stroke="#5A5A9C" stroke-width="2.3" stroke-dasharray="5.6 3.9"/>
<text x="351" y="144.2" class="lg">50th percentile</text>
<line x1="315.6" y1="160.0" x2="341" y2="160.0" stroke="#ABABB8" stroke-width="2.3" stroke-dasharray="5.6 3.9"/>
<text x="351" y="166.4" class="lg">5th percentile</text>
<text x="100.9" y="876.5" class="lg">Patients with VV</text>
<line x1="100.4" y1="899.1" x2="128.0" y2="899.1" stroke="#2A2A85" stroke-width="2.4"/>
<text x="135.8" y="905.3" class="lg">Observed PFS</text>
<text x="100.9" y="932.9" class="lg">Predicted PFS:</text>
<line x1="100.3" y1="954.4" x2="125.0" y2="954.4" stroke="#4C4C7C" stroke-width="2.2" stroke-dasharray="5.2 4.2"/>
<text x="136.1" y="960.8" class="lg">95th percentile</text>
<line x1="100.3" y1="976.9" x2="125.0" y2="976.9" stroke="#5A5A9C" stroke-width="2.2" stroke-dasharray="5.2 4.2"/>
<text x="136.1" y="983.3" class="lg">50th percentile</text>
<line x1="100.3" y1="999.9" x2="125.0" y2="999.9" stroke="#ABABB8" stroke-width="2.2" stroke-dasharray="5.2 4.2"/>
<text x="136.1" y="1006.3" class="lg">5th percentile</text>
<text x="316.3" y="876.5" class="lg">Patients with Fx</text>
<line x1="315.8" y1="899.1" x2="343.4" y2="899.1" stroke="#D4127A" stroke-width="2.4"/>
<text x="351.2" y="905.3" class="lg">Observed PFS</text>
<text x="316.3" y="932.9" class="lg">Predicted PFS:</text>
<line x1="315.7" y1="954.4" x2="340.4" y2="954.4" stroke="#D46A92" stroke-width="2.2" stroke-dasharray="5.2 4.2"/>
<text x="351.5" y="960.8" class="lg">95th percentile</text>
<line x1="315.7" y1="976.9" x2="340.4" y2="976.9" stroke="#D87A9E" stroke-width="2.2" stroke-dasharray="5.2 4.2"/>
<text x="351.5" y="983.3" class="lg">50th percentile</text>
<line x1="315.7" y1="999.9" x2="340.4" y2="999.9" stroke="#EAC4D0" stroke-width="2.2" stroke-dasharray="5.2 4.2"/>
<text x="351.5" y="1006.3" class="lg">5th percentile</text>
<rect x="0" y="1024.8" width="520" height="2.4" fill="#000"/>
<text x="18.3" y="1047.2" class="ft">CCR Reviews</text>
<text class="logo" transform="translate(450.5,1050.8) skewX(-26.6)" x="0" y="0" textLength="18.5" lengthAdjust="spacingAndGlyphs">A</text><text class="logo" transform="translate(460,1050.8) skewX(-26.6)" x="0" y="0" textLength="16.5" lengthAdjust="spacingAndGlyphs">A</text><text class="logo" x="474" y="1050.8" textLength="14.5" lengthAdjust="spacingAndGlyphs">C</text><text class="logo" x="487.5" y="1050.8" textLength="16" lengthAdjust="spacingAndGlyphs">R</text>
<rect x="0" y="0" width="520" height="2" fill="#000"/>
<rect x="0" y="0" width="2.2" height="1057" fill="#000"/>
<rect x="517.3" y="0" width="2.7" height="1057" fill="#000"/>
<rect x="0" y="1054" width="520" height="3" fill="#000"/>
</svg></body></html>
